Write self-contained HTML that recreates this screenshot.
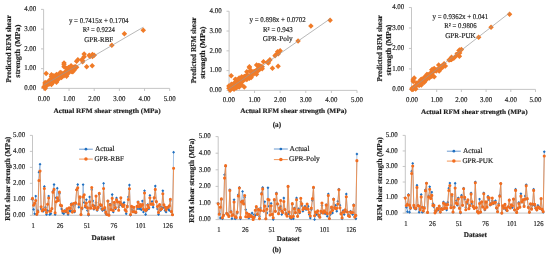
<!DOCTYPE html>
<html><head><meta charset="utf-8"><style>
html,body{margin:0;padding:0;background:#fff;width:550px;height:256px;overflow:hidden}
svg{display:block;filter:blur(0.4px)}
text{text-rendering:geometricPrecision;font-family:'Liberation Serif', 'DejaVu Serif', serif;fill:#1e1e1e;stroke:#1e1e1e;stroke-width:0.18px}
text.b{stroke-width:0.18px}
</style></head><body>
<svg width="550" height="256" viewBox="0 0 550 256">
<rect width="550" height="256" fill="#fff"/>
<path d="M43.60 9.40V88.40H169.70" fill="none" stroke="#BFBFBF" stroke-width="0.9"/>
<path d="M41.00 88.40H43.60M41.00 68.65H43.60M41.00 48.90H43.60M41.00 29.15H43.60M41.00 9.40H43.60M43.90 88.40V91.00M69.06 88.40V91.00M94.22 88.40V91.00M119.38 88.40V91.00M144.54 88.40V91.00M169.70 88.40V91.00" stroke="#BFBFBF" stroke-width="0.9"/>
<text x="36.30" y="90.20" font-size="7.4" text-anchor="end" textLength="12.10" lengthAdjust="spacingAndGlyphs">0.00</text>
<text x="36.30" y="70.45" font-size="7.4" text-anchor="end" textLength="12.10" lengthAdjust="spacingAndGlyphs">1.00</text>
<text x="36.30" y="50.70" font-size="7.4" text-anchor="end" textLength="12.10" lengthAdjust="spacingAndGlyphs">2.00</text>
<text x="36.30" y="30.95" font-size="7.4" text-anchor="end" textLength="12.10" lengthAdjust="spacingAndGlyphs">3.00</text>
<text x="36.30" y="11.20" font-size="7.4" text-anchor="end" textLength="12.10" lengthAdjust="spacingAndGlyphs">4.00</text>
<text x="43.90" y="100.80" font-size="7.4" text-anchor="middle" textLength="12.10" lengthAdjust="spacingAndGlyphs">0.00</text>
<text x="69.06" y="100.80" font-size="7.4" text-anchor="middle" textLength="12.10" lengthAdjust="spacingAndGlyphs">1.00</text>
<text x="94.22" y="100.80" font-size="7.4" text-anchor="middle" textLength="12.10" lengthAdjust="spacingAndGlyphs">2.00</text>
<text x="119.38" y="100.80" font-size="7.4" text-anchor="middle" textLength="12.10" lengthAdjust="spacingAndGlyphs">3.00</text>
<text x="144.54" y="100.80" font-size="7.4" text-anchor="middle" textLength="12.10" lengthAdjust="spacingAndGlyphs">4.00</text>
<text x="169.70" y="100.80" font-size="7.4" text-anchor="middle" textLength="12.10" lengthAdjust="spacingAndGlyphs">5.00</text>
<path d="M68.56 64.75l2.75 2.75l-2.75 2.75l-2.75 -2.75zM53.21 73.29l2.75 2.75l-2.75 2.75l-2.75 -2.75zM46.16 70.84l2.75 2.75l-2.75 2.75l-2.75 -2.75zM74.09 67.41l2.75 2.75l-2.75 2.75l-2.75 -2.75zM45.16 84.30l2.75 2.75l-2.75 2.75l-2.75 -2.75zM51.45 81.44l2.75 2.75l-2.75 2.75l-2.75 -2.75zM111.83 42.60l2.75 2.75l-2.75 2.75l-2.75 -2.75zM124.41 30.94l2.75 2.75l-2.75 2.75l-2.75 -2.75zM53.96 75.08l2.75 2.75l-2.75 2.75l-2.75 -2.75zM51.45 80.15l2.75 2.75l-2.75 2.75l-2.75 -2.75zM50.19 78.61l2.75 2.75l-2.75 2.75l-2.75 -2.75zM89.19 52.47l2.75 2.75l-2.75 2.75l-2.75 -2.75zM56.48 78.68l2.75 2.75l-2.75 2.75l-2.75 -2.75zM45.16 82.18l2.75 2.75l-2.75 2.75l-2.75 -2.75zM51.45 71.99l2.75 2.75l-2.75 2.75l-2.75 -2.75zM74.09 64.21l2.75 2.75l-2.75 2.75l-2.75 -2.75zM45.16 80.74l2.75 2.75l-2.75 2.75l-2.75 -2.75zM46.42 80.26l2.75 2.75l-2.75 2.75l-2.75 -2.75zM53.96 77.33l2.75 2.75l-2.75 2.75l-2.75 -2.75zM81.64 57.01l2.75 2.75l-2.75 2.75l-2.75 -2.75zM92.46 53.66l2.75 2.75l-2.75 2.75l-2.75 -2.75zM45.16 82.48l2.75 2.75l-2.75 2.75l-2.75 -2.75zM71.58 68.85l2.75 2.75l-2.75 2.75l-2.75 -2.75zM86.67 63.93l2.75 2.75l-2.75 2.75l-2.75 -2.75zM69.06 67.45l2.75 2.75l-2.75 2.75l-2.75 -2.75zM77.87 57.01l2.75 2.75l-2.75 2.75l-2.75 -2.75zM59.00 72.96l2.75 2.75l-2.75 2.75l-2.75 -2.75zM53.96 73.74l2.75 2.75l-2.75 2.75l-2.75 -2.75zM47.67 80.22l2.75 2.75l-2.75 2.75l-2.75 -2.75zM46.42 80.65l2.75 2.75l-2.75 2.75l-2.75 -2.75zM51.45 80.57l2.75 2.75l-2.75 2.75l-2.75 -2.75zM48.93 80.35l2.75 2.75l-2.75 2.75l-2.75 -2.75zM53.96 77.66l2.75 2.75l-2.75 2.75l-2.75 -2.75zM45.16 82.83l2.75 2.75l-2.75 2.75l-2.75 -2.75zM51.45 76.28l2.75 2.75l-2.75 2.75l-2.75 -2.75zM50.19 77.09l2.75 2.75l-2.75 2.75l-2.75 -2.75zM62.02 72.43l2.75 2.75l-2.75 2.75l-2.75 -2.75zM51.45 81.72l2.75 2.75l-2.75 2.75l-2.75 -2.75zM59.00 71.12l2.75 2.75l-2.75 2.75l-2.75 -2.75zM48.93 80.36l2.75 2.75l-2.75 2.75l-2.75 -2.75zM61.51 70.26l2.75 2.75l-2.75 2.75l-2.75 -2.75zM84.16 54.05l2.75 2.75l-2.75 2.75l-2.75 -2.75zM92.46 51.68l2.75 2.75l-2.75 2.75l-2.75 -2.75zM56.48 71.86l2.75 2.75l-2.75 2.75l-2.75 -2.75zM71.07 62.94l2.75 2.75l-2.75 2.75l-2.75 -2.75zM45.16 84.79l2.75 2.75l-2.75 2.75l-2.75 -2.75zM53.96 76.54l2.75 2.75l-2.75 2.75l-2.75 -2.75zM92.21 62.94l2.75 2.75l-2.75 2.75l-2.75 -2.75zM64.03 60.37l2.75 2.75l-2.75 2.75l-2.75 -2.75zM56.48 74.21l2.75 2.75l-2.75 2.75l-2.75 -2.75zM68.56 70.37l2.75 2.75l-2.75 2.75l-2.75 -2.75zM51.45 76.44l2.75 2.75l-2.75 2.75l-2.75 -2.75zM43.90 84.36l2.75 2.75l-2.75 2.75l-2.75 -2.75zM72.83 68.98l2.75 2.75l-2.75 2.75l-2.75 -2.75zM56.48 76.84l2.75 2.75l-2.75 2.75l-2.75 -2.75zM84.16 51.29l2.75 2.75l-2.75 2.75l-2.75 -2.75zM66.54 73.38l2.75 2.75l-2.75 2.75l-2.75 -2.75zM53.46 76.95l2.75 2.75l-2.75 2.75l-2.75 -2.75zM59.00 75.94l2.75 2.75l-2.75 2.75l-2.75 -2.75zM64.03 61.95l2.75 2.75l-2.75 2.75l-2.75 -2.75zM51.45 78.49l2.75 2.75l-2.75 2.75l-2.75 -2.75zM55.22 75.66l2.75 2.75l-2.75 2.75l-2.75 -2.75zM76.61 58.40l2.75 2.75l-2.75 2.75l-2.75 -2.75zM59.00 72.46l2.75 2.75l-2.75 2.75l-2.75 -2.75zM53.96 73.13l2.75 2.75l-2.75 2.75l-2.75 -2.75zM51.45 78.24l2.75 2.75l-2.75 2.75l-2.75 -2.75zM94.22 52.47l2.75 2.75l-2.75 2.75l-2.75 -2.75zM52.71 76.22l2.75 2.75l-2.75 2.75l-2.75 -2.75zM46.42 81.76l2.75 2.75l-2.75 2.75l-2.75 -2.75zM45.16 84.64l2.75 2.75l-2.75 2.75l-2.75 -2.75zM66.54 67.96l2.75 2.75l-2.75 2.75l-2.75 -2.75zM45.16 85.65l2.75 2.75l-2.75 2.75l-2.75 -2.75zM61.51 72.56l2.75 2.75l-2.75 2.75l-2.75 -2.75zM53.96 78.84l2.75 2.75l-2.75 2.75l-2.75 -2.75zM76.61 64.53l2.75 2.75l-2.75 2.75l-2.75 -2.75zM48.93 79.73l2.75 2.75l-2.75 2.75l-2.75 -2.75zM60.25 69.68l2.75 2.75l-2.75 2.75l-2.75 -2.75zM53.96 76.17l2.75 2.75l-2.75 2.75l-2.75 -2.75zM71.07 66.54l2.75 2.75l-2.75 2.75l-2.75 -2.75zM65.29 68.88l2.75 2.75l-2.75 2.75l-2.75 -2.75zM56.48 79.44l2.75 2.75l-2.75 2.75l-2.75 -2.75zM60.25 69.70l2.75 2.75l-2.75 2.75l-2.75 -2.75zM64.03 63.93l2.75 2.75l-2.75 2.75l-2.75 -2.75zM59.00 72.41l2.75 2.75l-2.75 2.75l-2.75 -2.75zM61.51 74.82l2.75 2.75l-2.75 2.75l-2.75 -2.75zM64.03 72.98l2.75 2.75l-2.75 2.75l-2.75 -2.75zM51.45 78.87l2.75 2.75l-2.75 2.75l-2.75 -2.75zM46.42 80.60l2.75 2.75l-2.75 2.75l-2.75 -2.75zM59.00 74.99l2.75 2.75l-2.75 2.75l-2.75 -2.75zM72.83 66.15l2.75 2.75l-2.75 2.75l-2.75 -2.75zM91.70 52.87l2.75 2.75l-2.75 2.75l-2.75 -2.75zM43.90 84.58l2.75 2.75l-2.75 2.75l-2.75 -2.75zM53.96 74.64l2.75 2.75l-2.75 2.75l-2.75 -2.75zM51.45 81.24l2.75 2.75l-2.75 2.75l-2.75 -2.75zM56.48 75.79l2.75 2.75l-2.75 2.75l-2.75 -2.75zM48.93 81.43l2.75 2.75l-2.75 2.75l-2.75 -2.75zM47.67 81.86l2.75 2.75l-2.75 2.75l-2.75 -2.75zM53.96 74.67l2.75 2.75l-2.75 2.75l-2.75 -2.75zM65.29 69.52l2.75 2.75l-2.75 2.75l-2.75 -2.75zM53.96 74.98l2.75 2.75l-2.75 2.75l-2.75 -2.75zM55.98 72.32l2.75 2.75l-2.75 2.75l-2.75 -2.75zM52.71 74.32l2.75 2.75l-2.75 2.75l-2.75 -2.75zM66.54 72.49l2.75 2.75l-2.75 2.75l-2.75 -2.75zM48.93 78.03l2.75 2.75l-2.75 2.75l-2.75 -2.75zM82.65 58.00l2.75 2.75l-2.75 2.75l-2.75 -2.75zM45.16 79.66l2.75 2.75l-2.75 2.75l-2.75 -2.75zM51.45 78.37l2.75 2.75l-2.75 2.75l-2.75 -2.75zM61.01 73.24l2.75 2.75l-2.75 2.75l-2.75 -2.75zM53.96 76.01l2.75 2.75l-2.75 2.75l-2.75 -2.75zM75.35 63.93l2.75 2.75l-2.75 2.75l-2.75 -2.75zM61.51 71.97l2.75 2.75l-2.75 2.75l-2.75 -2.75zM65.79 71.41l2.75 2.75l-2.75 2.75l-2.75 -2.75zM56.48 72.29l2.75 2.75l-2.75 2.75l-2.75 -2.75zM71.58 63.98l2.75 2.75l-2.75 2.75l-2.75 -2.75zM89.94 53.66l2.75 2.75l-2.75 2.75l-2.75 -2.75zM65.79 68.77l2.75 2.75l-2.75 2.75l-2.75 -2.75zM53.96 74.80l2.75 2.75l-2.75 2.75l-2.75 -2.75zM45.16 82.07l2.75 2.75l-2.75 2.75l-2.75 -2.75zM57.74 72.51l2.75 2.75l-2.75 2.75l-2.75 -2.75zM51.45 78.54l2.75 2.75l-2.75 2.75l-2.75 -2.75zM56.48 77.60l2.75 2.75l-2.75 2.75l-2.75 -2.75zM82.65 58.99l2.75 2.75l-2.75 2.75l-2.75 -2.75zM55.98 72.74l2.75 2.75l-2.75 2.75l-2.75 -2.75zM51.45 75.48l2.75 2.75l-2.75 2.75l-2.75 -2.75zM48.93 78.99l2.75 2.75l-2.75 2.75l-2.75 -2.75zM56.48 76.36l2.75 2.75l-2.75 2.75l-2.75 -2.75zM53.96 75.67l2.75 2.75l-2.75 2.75l-2.75 -2.75zM51.45 73.78l2.75 2.75l-2.75 2.75l-2.75 -2.75zM66.54 65.76l2.75 2.75l-2.75 2.75l-2.75 -2.75zM48.93 81.04l2.75 2.75l-2.75 2.75l-2.75 -2.75zM45.16 84.98l2.75 2.75l-2.75 2.75l-2.75 -2.75zM143.28 27.59l2.75 2.75l-2.75 2.75l-2.75 -2.75z" fill="#F07B28"/>
<line x1="43.90" y1="85.03" x2="143.28" y2="27.19" stroke="#9A9A9A" stroke-width="0.7"/>
<text x="68.90" y="23.00" font-size="7.4" text-anchor="start" textLength="59.70" lengthAdjust="spacingAndGlyphs">y = 0.7415x + 0.1704</text>
<text x="82.80" y="32.00" font-size="7.4" text-anchor="start" textLength="32.10" lengthAdjust="spacingAndGlyphs">R² = 0.9224</text>
<text x="84.30" y="42.10" font-size="7.4" text-anchor="start" textLength="28.90" lengthAdjust="spacingAndGlyphs">GPR-RBF</text>
<text x="53.60" y="112.90" font-size="6.9" text-anchor="start" font-weight="bold" class="b" textLength="107.00" lengthAdjust="spacingAndGlyphs">Actual RFM shear strength (MPa)</text>
<text transform="translate(10.88,48.85) rotate(-90)" font-size="7.5" font-weight="bold" class="b" text-anchor="middle" textLength="67.10" lengthAdjust="spacingAndGlyphs">Predicted RFM shear</text>
<text transform="translate(20.28,51.20) rotate(-90)" font-size="7.5" font-weight="bold" class="b" text-anchor="middle" textLength="53.20" lengthAdjust="spacingAndGlyphs">strength (MPa)</text>
<path d="M229.10 11.25V90.40H357.00" fill="none" stroke="#BFBFBF" stroke-width="0.9"/>
<path d="M226.50 90.40H229.10M226.50 70.61H229.10M226.50 50.83H229.10M226.50 31.04H229.10M226.50 11.25H229.10M228.90 90.40V93.00M254.52 90.40V93.00M280.14 90.40V93.00M305.76 90.40V93.00M331.38 90.40V93.00M357.00 90.40V93.00" stroke="#BFBFBF" stroke-width="0.9"/>
<text x="221.60" y="92.20" font-size="7.4" text-anchor="end" textLength="12.10" lengthAdjust="spacingAndGlyphs">0.00</text>
<text x="221.60" y="72.41" font-size="7.4" text-anchor="end" textLength="12.10" lengthAdjust="spacingAndGlyphs">1.00</text>
<text x="221.60" y="52.62" font-size="7.4" text-anchor="end" textLength="12.10" lengthAdjust="spacingAndGlyphs">2.00</text>
<text x="221.60" y="32.84" font-size="7.4" text-anchor="end" textLength="12.10" lengthAdjust="spacingAndGlyphs">3.00</text>
<text x="221.60" y="13.05" font-size="7.4" text-anchor="end" textLength="12.10" lengthAdjust="spacingAndGlyphs">4.00</text>
<text x="228.90" y="102.40" font-size="7.4" text-anchor="middle" textLength="12.10" lengthAdjust="spacingAndGlyphs">0.00</text>
<text x="254.52" y="102.40" font-size="7.4" text-anchor="middle" textLength="12.10" lengthAdjust="spacingAndGlyphs">1.00</text>
<text x="280.14" y="102.40" font-size="7.4" text-anchor="middle" textLength="12.10" lengthAdjust="spacingAndGlyphs">2.00</text>
<text x="305.76" y="102.40" font-size="7.4" text-anchor="middle" textLength="12.10" lengthAdjust="spacingAndGlyphs">3.00</text>
<text x="331.38" y="102.40" font-size="7.4" text-anchor="middle" textLength="12.10" lengthAdjust="spacingAndGlyphs">4.00</text>
<text x="357.00" y="102.40" font-size="7.4" text-anchor="middle" textLength="12.10" lengthAdjust="spacingAndGlyphs">5.00</text>
<path d="M254.01 68.85l2.75 2.75l-2.75 2.75l-2.75 -2.75zM238.38 81.26l2.75 2.75l-2.75 2.75l-2.75 -2.75zM231.21 73.01l2.75 2.75l-2.75 2.75l-2.75 -2.75zM259.64 62.95l2.75 2.75l-2.75 2.75l-2.75 -2.75zM230.18 85.34l2.75 2.75l-2.75 2.75l-2.75 -2.75zM236.59 82.71l2.75 2.75l-2.75 2.75l-2.75 -2.75zM298.07 38.18l2.75 2.75l-2.75 2.75l-2.75 -2.75zM310.88 23.34l2.75 2.75l-2.75 2.75l-2.75 -2.75zM239.15 80.37l2.75 2.75l-2.75 2.75l-2.75 -2.75zM236.59 81.61l2.75 2.75l-2.75 2.75l-2.75 -2.75zM235.31 83.97l2.75 2.75l-2.75 2.75l-2.75 -2.75zM275.02 53.02l2.75 2.75l-2.75 2.75l-2.75 -2.75zM241.71 78.68l2.75 2.75l-2.75 2.75l-2.75 -2.75zM230.18 82.80l2.75 2.75l-2.75 2.75l-2.75 -2.75zM236.59 81.86l2.75 2.75l-2.75 2.75l-2.75 -2.75zM259.64 66.70l2.75 2.75l-2.75 2.75l-2.75 -2.75zM230.18 84.32l2.75 2.75l-2.75 2.75l-2.75 -2.75zM231.46 85.05l2.75 2.75l-2.75 2.75l-2.75 -2.75zM239.15 78.70l2.75 2.75l-2.75 2.75l-2.75 -2.75zM267.33 59.55l2.75 2.75l-2.75 2.75l-2.75 -2.75zM278.35 50.05l2.75 2.75l-2.75 2.75l-2.75 -2.75zM230.18 85.01l2.75 2.75l-2.75 2.75l-2.75 -2.75zM257.08 66.67l2.75 2.75l-2.75 2.75l-2.75 -2.75zM272.45 65.49l2.75 2.75l-2.75 2.75l-2.75 -2.75zM254.52 69.08l2.75 2.75l-2.75 2.75l-2.75 -2.75zM263.49 58.96l2.75 2.75l-2.75 2.75l-2.75 -2.75zM244.27 84.23l2.75 2.75l-2.75 2.75l-2.75 -2.75zM239.15 79.71l2.75 2.75l-2.75 2.75l-2.75 -2.75zM232.74 84.28l2.75 2.75l-2.75 2.75l-2.75 -2.75zM231.46 81.48l2.75 2.75l-2.75 2.75l-2.75 -2.75zM236.59 83.56l2.75 2.75l-2.75 2.75l-2.75 -2.75zM234.02 83.21l2.75 2.75l-2.75 2.75l-2.75 -2.75zM239.15 84.30l2.75 2.75l-2.75 2.75l-2.75 -2.75zM230.18 87.47l2.75 2.75l-2.75 2.75l-2.75 -2.75zM236.59 84.99l2.75 2.75l-2.75 2.75l-2.75 -2.75zM235.31 76.51l2.75 2.75l-2.75 2.75l-2.75 -2.75zM247.35 72.10l2.75 2.75l-2.75 2.75l-2.75 -2.75zM236.59 81.26l2.75 2.75l-2.75 2.75l-2.75 -2.75zM244.27 75.50l2.75 2.75l-2.75 2.75l-2.75 -2.75zM234.02 86.47l2.75 2.75l-2.75 2.75l-2.75 -2.75zM246.83 76.66l2.75 2.75l-2.75 2.75l-2.75 -2.75zM269.89 57.13l2.75 2.75l-2.75 2.75l-2.75 -2.75zM278.35 51.04l2.75 2.75l-2.75 2.75l-2.75 -2.75zM241.71 77.04l2.75 2.75l-2.75 2.75l-2.75 -2.75zM256.57 71.55l2.75 2.75l-2.75 2.75l-2.75 -2.75zM230.18 86.67l2.75 2.75l-2.75 2.75l-2.75 -2.75zM239.15 75.25l2.75 2.75l-2.75 2.75l-2.75 -2.75zM278.09 63.51l2.75 2.75l-2.75 2.75l-2.75 -2.75zM249.40 63.91l2.75 2.75l-2.75 2.75l-2.75 -2.75zM241.71 82.24l2.75 2.75l-2.75 2.75l-2.75 -2.75zM254.01 71.05l2.75 2.75l-2.75 2.75l-2.75 -2.75zM236.59 81.38l2.75 2.75l-2.75 2.75l-2.75 -2.75zM228.90 85.42l2.75 2.75l-2.75 2.75l-2.75 -2.75zM258.36 63.76l2.75 2.75l-2.75 2.75l-2.75 -2.75zM241.71 77.82l2.75 2.75l-2.75 2.75l-2.75 -2.75zM269.89 56.98l2.75 2.75l-2.75 2.75l-2.75 -2.75zM251.96 68.70l2.75 2.75l-2.75 2.75l-2.75 -2.75zM238.64 80.53l2.75 2.75l-2.75 2.75l-2.75 -2.75zM244.27 73.86l2.75 2.75l-2.75 2.75l-2.75 -2.75zM249.40 64.89l2.75 2.75l-2.75 2.75l-2.75 -2.75zM236.59 77.35l2.75 2.75l-2.75 2.75l-2.75 -2.75zM240.43 79.25l2.75 2.75l-2.75 2.75l-2.75 -2.75zM262.21 66.03l2.75 2.75l-2.75 2.75l-2.75 -2.75zM244.27 75.68l2.75 2.75l-2.75 2.75l-2.75 -2.75zM239.15 80.99l2.75 2.75l-2.75 2.75l-2.75 -2.75zM236.59 83.50l2.75 2.75l-2.75 2.75l-2.75 -2.75zM280.14 48.08l2.75 2.75l-2.75 2.75l-2.75 -2.75zM237.87 78.54l2.75 2.75l-2.75 2.75l-2.75 -2.75zM231.46 83.97l2.75 2.75l-2.75 2.75l-2.75 -2.75zM230.18 85.12l2.75 2.75l-2.75 2.75l-2.75 -2.75zM251.96 68.63l2.75 2.75l-2.75 2.75l-2.75 -2.75zM230.18 83.82l2.75 2.75l-2.75 2.75l-2.75 -2.75zM246.83 74.67l2.75 2.75l-2.75 2.75l-2.75 -2.75zM239.15 79.18l2.75 2.75l-2.75 2.75l-2.75 -2.75zM262.21 63.99l2.75 2.75l-2.75 2.75l-2.75 -2.75zM234.02 83.79l2.75 2.75l-2.75 2.75l-2.75 -2.75zM245.55 76.27l2.75 2.75l-2.75 2.75l-2.75 -2.75zM239.15 78.44l2.75 2.75l-2.75 2.75l-2.75 -2.75zM256.57 62.28l2.75 2.75l-2.75 2.75l-2.75 -2.75zM250.68 68.89l2.75 2.75l-2.75 2.75l-2.75 -2.75zM241.71 75.59l2.75 2.75l-2.75 2.75l-2.75 -2.75zM245.55 73.63l2.75 2.75l-2.75 2.75l-2.75 -2.75zM249.40 73.46l2.75 2.75l-2.75 2.75l-2.75 -2.75zM244.27 74.40l2.75 2.75l-2.75 2.75l-2.75 -2.75zM246.83 69.08l2.75 2.75l-2.75 2.75l-2.75 -2.75zM249.40 75.38l2.75 2.75l-2.75 2.75l-2.75 -2.75zM236.59 79.17l2.75 2.75l-2.75 2.75l-2.75 -2.75zM231.46 83.39l2.75 2.75l-2.75 2.75l-2.75 -2.75zM244.27 73.93l2.75 2.75l-2.75 2.75l-2.75 -2.75zM258.36 62.70l2.75 2.75l-2.75 2.75l-2.75 -2.75zM277.58 49.06l2.75 2.75l-2.75 2.75l-2.75 -2.75zM228.90 83.14l2.75 2.75l-2.75 2.75l-2.75 -2.75zM239.15 78.54l2.75 2.75l-2.75 2.75l-2.75 -2.75zM236.59 79.12l2.75 2.75l-2.75 2.75l-2.75 -2.75zM241.71 77.13l2.75 2.75l-2.75 2.75l-2.75 -2.75zM234.02 82.17l2.75 2.75l-2.75 2.75l-2.75 -2.75zM232.74 84.88l2.75 2.75l-2.75 2.75l-2.75 -2.75zM239.15 77.68l2.75 2.75l-2.75 2.75l-2.75 -2.75zM250.68 67.83l2.75 2.75l-2.75 2.75l-2.75 -2.75zM239.15 79.68l2.75 2.75l-2.75 2.75l-2.75 -2.75zM241.20 77.27l2.75 2.75l-2.75 2.75l-2.75 -2.75zM237.87 78.68l2.75 2.75l-2.75 2.75l-2.75 -2.75zM251.96 70.35l2.75 2.75l-2.75 2.75l-2.75 -2.75zM234.02 80.58l2.75 2.75l-2.75 2.75l-2.75 -2.75zM268.35 58.96l2.75 2.75l-2.75 2.75l-2.75 -2.75zM230.18 86.41l2.75 2.75l-2.75 2.75l-2.75 -2.75zM236.59 79.30l2.75 2.75l-2.75 2.75l-2.75 -2.75zM246.32 72.77l2.75 2.75l-2.75 2.75l-2.75 -2.75zM239.15 76.61l2.75 2.75l-2.75 2.75l-2.75 -2.75zM260.93 63.55l2.75 2.75l-2.75 2.75l-2.75 -2.75zM246.83 73.43l2.75 2.75l-2.75 2.75l-2.75 -2.75zM251.19 74.68l2.75 2.75l-2.75 2.75l-2.75 -2.75zM241.71 74.12l2.75 2.75l-2.75 2.75l-2.75 -2.75zM257.08 69.02l2.75 2.75l-2.75 2.75l-2.75 -2.75zM275.78 52.03l2.75 2.75l-2.75 2.75l-2.75 -2.75zM251.19 73.63l2.75 2.75l-2.75 2.75l-2.75 -2.75zM239.15 80.83l2.75 2.75l-2.75 2.75l-2.75 -2.75zM230.18 85.42l2.75 2.75l-2.75 2.75l-2.75 -2.75zM242.99 78.24l2.75 2.75l-2.75 2.75l-2.75 -2.75zM236.59 78.86l2.75 2.75l-2.75 2.75l-2.75 -2.75zM241.71 75.83l2.75 2.75l-2.75 2.75l-2.75 -2.75zM268.35 60.34l2.75 2.75l-2.75 2.75l-2.75 -2.75zM241.20 78.61l2.75 2.75l-2.75 2.75l-2.75 -2.75zM236.59 82.97l2.75 2.75l-2.75 2.75l-2.75 -2.75zM234.02 83.91l2.75 2.75l-2.75 2.75l-2.75 -2.75zM241.71 78.69l2.75 2.75l-2.75 2.75l-2.75 -2.75zM239.15 79.28l2.75 2.75l-2.75 2.75l-2.75 -2.75zM236.59 79.15l2.75 2.75l-2.75 2.75l-2.75 -2.75zM251.96 70.73l2.75 2.75l-2.75 2.75l-2.75 -2.75zM234.02 84.65l2.75 2.75l-2.75 2.75l-2.75 -2.75zM230.18 82.67l2.75 2.75l-2.75 2.75l-2.75 -2.75zM330.10 17.40l2.75 2.75l-2.75 2.75l-2.75 -2.75z" fill="#F07B28"/>
<line x1="228.90" y1="89.01" x2="330.10" y2="18.82" stroke="#9A9A9A" stroke-width="0.7"/>
<text x="249.50" y="22.30" font-size="7.4" text-anchor="start" textLength="56.20" lengthAdjust="spacingAndGlyphs">y = 0.898x + 0.0702</text>
<text x="263.00" y="31.90" font-size="7.4" text-anchor="start" textLength="29.60" lengthAdjust="spacingAndGlyphs">R² = 0.943</text>
<text x="262.80" y="41.10" font-size="7.4" text-anchor="start" textLength="29.80" lengthAdjust="spacingAndGlyphs">GPR-Poly</text>
<text x="240.20" y="113.30" font-size="6.9" text-anchor="start" font-weight="bold" class="b" textLength="106.50" lengthAdjust="spacingAndGlyphs">Actual RFM shear strength (MPa)</text>
<text transform="translate(195.97,50.25) rotate(-90)" font-size="7.5" font-weight="bold" class="b" text-anchor="middle" textLength="66.10" lengthAdjust="spacingAndGlyphs">Predicted RFM shear</text>
<text transform="translate(205.47,52.65) rotate(-90)" font-size="7.5" font-weight="bold" class="b" text-anchor="middle" textLength="52.30" lengthAdjust="spacingAndGlyphs">strength (MPa)</text>
<path d="M411.50 7.50V89.40H535.50" fill="none" stroke="#BFBFBF" stroke-width="0.9"/>
<path d="M408.90 89.40H411.50M408.90 68.93H411.50M408.90 48.45H411.50M408.90 27.98H411.50M408.90 7.50H411.50M412.00 89.40V92.00M436.70 89.40V92.00M461.40 89.40V92.00M486.10 89.40V92.00M510.80 89.40V92.00M535.50 89.40V92.00" stroke="#BFBFBF" stroke-width="0.9"/>
<text x="404.30" y="91.20" font-size="7.4" text-anchor="end" textLength="12.10" lengthAdjust="spacingAndGlyphs">0.00</text>
<text x="404.30" y="70.73" font-size="7.4" text-anchor="end" textLength="12.10" lengthAdjust="spacingAndGlyphs">1.00</text>
<text x="404.30" y="50.25" font-size="7.4" text-anchor="end" textLength="12.10" lengthAdjust="spacingAndGlyphs">2.00</text>
<text x="404.30" y="29.78" font-size="7.4" text-anchor="end" textLength="12.10" lengthAdjust="spacingAndGlyphs">3.00</text>
<text x="404.30" y="9.30" font-size="7.4" text-anchor="end" textLength="12.10" lengthAdjust="spacingAndGlyphs">4.00</text>
<text x="412.00" y="101.60" font-size="7.4" text-anchor="middle" textLength="12.10" lengthAdjust="spacingAndGlyphs">0.00</text>
<text x="436.70" y="101.60" font-size="7.4" text-anchor="middle" textLength="12.10" lengthAdjust="spacingAndGlyphs">1.00</text>
<text x="461.40" y="101.60" font-size="7.4" text-anchor="middle" textLength="12.10" lengthAdjust="spacingAndGlyphs">2.00</text>
<text x="486.10" y="101.60" font-size="7.4" text-anchor="middle" textLength="12.10" lengthAdjust="spacingAndGlyphs">3.00</text>
<text x="510.80" y="101.60" font-size="7.4" text-anchor="middle" textLength="12.10" lengthAdjust="spacingAndGlyphs">4.00</text>
<text x="535.50" y="101.60" font-size="7.4" text-anchor="middle" textLength="12.10" lengthAdjust="spacingAndGlyphs">5.00</text>
<path d="M436.21 66.88l2.75 2.75l-2.75 2.75l-2.75 -2.75zM421.14 76.80l2.75 2.75l-2.75 2.75l-2.75 -2.75zM414.22 75.18l2.75 2.75l-2.75 2.75l-2.75 -2.75zM441.64 63.21l2.75 2.75l-2.75 2.75l-2.75 -2.75zM413.24 76.41l2.75 2.75l-2.75 2.75l-2.75 -2.75zM419.41 79.82l2.75 2.75l-2.75 2.75l-2.75 -2.75zM478.69 34.44l2.75 2.75l-2.75 2.75l-2.75 -2.75zM491.04 24.61l2.75 2.75l-2.75 2.75l-2.75 -2.75zM421.88 76.41l2.75 2.75l-2.75 2.75l-2.75 -2.75zM419.41 80.11l2.75 2.75l-2.75 2.75l-2.75 -2.75zM418.18 80.12l2.75 2.75l-2.75 2.75l-2.75 -2.75zM456.46 52.80l2.75 2.75l-2.75 2.75l-2.75 -2.75zM424.35 76.79l2.75 2.75l-2.75 2.75l-2.75 -2.75zM413.24 77.44l2.75 2.75l-2.75 2.75l-2.75 -2.75zM419.41 82.38l2.75 2.75l-2.75 2.75l-2.75 -2.75zM441.64 65.31l2.75 2.75l-2.75 2.75l-2.75 -2.75zM413.24 78.87l2.75 2.75l-2.75 2.75l-2.75 -2.75zM414.47 83.93l2.75 2.75l-2.75 2.75l-2.75 -2.75zM421.88 80.19l2.75 2.75l-2.75 2.75l-2.75 -2.75zM449.05 57.18l2.75 2.75l-2.75 2.75l-2.75 -2.75zM459.67 47.34l2.75 2.75l-2.75 2.75l-2.75 -2.75zM413.24 85.71l2.75 2.75l-2.75 2.75l-2.75 -2.75zM439.17 65.34l2.75 2.75l-2.75 2.75l-2.75 -2.75zM453.99 55.32l2.75 2.75l-2.75 2.75l-2.75 -2.75zM436.70 67.42l2.75 2.75l-2.75 2.75l-2.75 -2.75zM445.35 63.31l2.75 2.75l-2.75 2.75l-2.75 -2.75zM426.82 76.49l2.75 2.75l-2.75 2.75l-2.75 -2.75zM421.88 76.45l2.75 2.75l-2.75 2.75l-2.75 -2.75zM415.70 86.32l2.75 2.75l-2.75 2.75l-2.75 -2.75zM414.47 83.72l2.75 2.75l-2.75 2.75l-2.75 -2.75zM419.41 80.54l2.75 2.75l-2.75 2.75l-2.75 -2.75zM416.94 81.27l2.75 2.75l-2.75 2.75l-2.75 -2.75zM421.88 77.33l2.75 2.75l-2.75 2.75l-2.75 -2.75zM413.24 85.20l2.75 2.75l-2.75 2.75l-2.75 -2.75zM419.41 80.97l2.75 2.75l-2.75 2.75l-2.75 -2.75zM418.18 81.95l2.75 2.75l-2.75 2.75l-2.75 -2.75zM429.78 73.52l2.75 2.75l-2.75 2.75l-2.75 -2.75zM419.41 80.13l2.75 2.75l-2.75 2.75l-2.75 -2.75zM426.82 75.52l2.75 2.75l-2.75 2.75l-2.75 -2.75zM416.94 80.34l2.75 2.75l-2.75 2.75l-2.75 -2.75zM429.29 75.26l2.75 2.75l-2.75 2.75l-2.75 -2.75zM451.52 56.82l2.75 2.75l-2.75 2.75l-2.75 -2.75zM459.67 50.28l2.75 2.75l-2.75 2.75l-2.75 -2.75zM424.35 79.44l2.75 2.75l-2.75 2.75l-2.75 -2.75zM438.68 62.19l2.75 2.75l-2.75 2.75l-2.75 -2.75zM413.24 85.24l2.75 2.75l-2.75 2.75l-2.75 -2.75zM421.88 78.95l2.75 2.75l-2.75 2.75l-2.75 -2.75zM459.42 53.48l2.75 2.75l-2.75 2.75l-2.75 -2.75zM431.76 73.52l2.75 2.75l-2.75 2.75l-2.75 -2.75zM424.35 74.58l2.75 2.75l-2.75 2.75l-2.75 -2.75zM436.21 68.15l2.75 2.75l-2.75 2.75l-2.75 -2.75zM419.41 80.30l2.75 2.75l-2.75 2.75l-2.75 -2.75zM412.00 85.51l2.75 2.75l-2.75 2.75l-2.75 -2.75zM440.40 65.51l2.75 2.75l-2.75 2.75l-2.75 -2.75zM424.35 76.35l2.75 2.75l-2.75 2.75l-2.75 -2.75zM451.52 54.60l2.75 2.75l-2.75 2.75l-2.75 -2.75zM434.23 65.73l2.75 2.75l-2.75 2.75l-2.75 -2.75zM421.39 82.22l2.75 2.75l-2.75 2.75l-2.75 -2.75zM426.82 71.97l2.75 2.75l-2.75 2.75l-2.75 -2.75zM431.76 69.02l2.75 2.75l-2.75 2.75l-2.75 -2.75zM419.41 80.80l2.75 2.75l-2.75 2.75l-2.75 -2.75zM423.12 76.72l2.75 2.75l-2.75 2.75l-2.75 -2.75zM444.11 61.61l2.75 2.75l-2.75 2.75l-2.75 -2.75zM426.82 71.78l2.75 2.75l-2.75 2.75l-2.75 -2.75zM421.88 77.82l2.75 2.75l-2.75 2.75l-2.75 -2.75zM419.41 80.39l2.75 2.75l-2.75 2.75l-2.75 -2.75zM461.40 46.72l2.75 2.75l-2.75 2.75l-2.75 -2.75zM420.64 79.41l2.75 2.75l-2.75 2.75l-2.75 -2.75zM414.47 84.71l2.75 2.75l-2.75 2.75l-2.75 -2.75zM413.24 86.58l2.75 2.75l-2.75 2.75l-2.75 -2.75zM434.23 74.10l2.75 2.75l-2.75 2.75l-2.75 -2.75zM413.24 85.13l2.75 2.75l-2.75 2.75l-2.75 -2.75zM429.29 71.82l2.75 2.75l-2.75 2.75l-2.75 -2.75zM421.88 78.46l2.75 2.75l-2.75 2.75l-2.75 -2.75zM444.11 61.12l2.75 2.75l-2.75 2.75l-2.75 -2.75zM416.94 81.47l2.75 2.75l-2.75 2.75l-2.75 -2.75zM428.06 71.86l2.75 2.75l-2.75 2.75l-2.75 -2.75zM421.88 78.83l2.75 2.75l-2.75 2.75l-2.75 -2.75zM438.68 65.68l2.75 2.75l-2.75 2.75l-2.75 -2.75zM433.00 66.54l2.75 2.75l-2.75 2.75l-2.75 -2.75zM424.35 75.41l2.75 2.75l-2.75 2.75l-2.75 -2.75zM428.06 74.86l2.75 2.75l-2.75 2.75l-2.75 -2.75zM431.76 66.91l2.75 2.75l-2.75 2.75l-2.75 -2.75zM426.82 73.12l2.75 2.75l-2.75 2.75l-2.75 -2.75zM429.29 73.30l2.75 2.75l-2.75 2.75l-2.75 -2.75zM431.76 72.28l2.75 2.75l-2.75 2.75l-2.75 -2.75zM419.41 79.60l2.75 2.75l-2.75 2.75l-2.75 -2.75zM414.47 84.85l2.75 2.75l-2.75 2.75l-2.75 -2.75zM426.82 76.30l2.75 2.75l-2.75 2.75l-2.75 -2.75zM440.40 64.54l2.75 2.75l-2.75 2.75l-2.75 -2.75zM458.93 47.75l2.75 2.75l-2.75 2.75l-2.75 -2.75zM412.00 86.65l2.75 2.75l-2.75 2.75l-2.75 -2.75zM421.88 77.12l2.75 2.75l-2.75 2.75l-2.75 -2.75zM419.41 79.96l2.75 2.75l-2.75 2.75l-2.75 -2.75zM424.35 74.93l2.75 2.75l-2.75 2.75l-2.75 -2.75zM416.94 80.13l2.75 2.75l-2.75 2.75l-2.75 -2.75zM415.70 83.19l2.75 2.75l-2.75 2.75l-2.75 -2.75zM421.88 78.37l2.75 2.75l-2.75 2.75l-2.75 -2.75zM433.00 69.59l2.75 2.75l-2.75 2.75l-2.75 -2.75zM421.88 79.89l2.75 2.75l-2.75 2.75l-2.75 -2.75zM423.86 75.58l2.75 2.75l-2.75 2.75l-2.75 -2.75zM420.64 76.99l2.75 2.75l-2.75 2.75l-2.75 -2.75zM434.23 68.29l2.75 2.75l-2.75 2.75l-2.75 -2.75zM416.94 82.34l2.75 2.75l-2.75 2.75l-2.75 -2.75zM450.04 56.69l2.75 2.75l-2.75 2.75l-2.75 -2.75zM413.24 85.67l2.75 2.75l-2.75 2.75l-2.75 -2.75zM419.41 80.68l2.75 2.75l-2.75 2.75l-2.75 -2.75zM428.80 74.07l2.75 2.75l-2.75 2.75l-2.75 -2.75zM421.88 78.81l2.75 2.75l-2.75 2.75l-2.75 -2.75zM442.88 64.27l2.75 2.75l-2.75 2.75l-2.75 -2.75zM429.29 71.85l2.75 2.75l-2.75 2.75l-2.75 -2.75zM433.49 69.06l2.75 2.75l-2.75 2.75l-2.75 -2.75zM424.35 78.00l2.75 2.75l-2.75 2.75l-2.75 -2.75zM439.17 68.25l2.75 2.75l-2.75 2.75l-2.75 -2.75zM457.20 50.74l2.75 2.75l-2.75 2.75l-2.75 -2.75zM433.49 67.44l2.75 2.75l-2.75 2.75l-2.75 -2.75zM421.88 79.27l2.75 2.75l-2.75 2.75l-2.75 -2.75zM413.24 85.48l2.75 2.75l-2.75 2.75l-2.75 -2.75zM425.58 74.26l2.75 2.75l-2.75 2.75l-2.75 -2.75zM419.41 81.47l2.75 2.75l-2.75 2.75l-2.75 -2.75zM424.35 74.71l2.75 2.75l-2.75 2.75l-2.75 -2.75zM450.04 56.76l2.75 2.75l-2.75 2.75l-2.75 -2.75zM423.86 75.19l2.75 2.75l-2.75 2.75l-2.75 -2.75zM419.41 80.01l2.75 2.75l-2.75 2.75l-2.75 -2.75zM416.94 82.33l2.75 2.75l-2.75 2.75l-2.75 -2.75zM424.35 78.50l2.75 2.75l-2.75 2.75l-2.75 -2.75zM421.88 79.20l2.75 2.75l-2.75 2.75l-2.75 -2.75zM419.41 80.46l2.75 2.75l-2.75 2.75l-2.75 -2.75zM434.23 67.55l2.75 2.75l-2.75 2.75l-2.75 -2.75zM416.94 81.60l2.75 2.75l-2.75 2.75l-2.75 -2.75zM413.24 84.68l2.75 2.75l-2.75 2.75l-2.75 -2.75zM509.56 11.51l2.75 2.75l-2.75 2.75l-2.75 -2.75z" fill="#F07B28"/>
<line x1="412.00" y1="88.56" x2="509.56" y2="12.84" stroke="#9A9A9A" stroke-width="0.7"/>
<text x="432.60" y="19.00" font-size="7.4" text-anchor="start" textLength="55.60" lengthAdjust="spacingAndGlyphs">y = 0.9362x + 0.041</text>
<text x="444.30" y="28.20" font-size="7.4" text-anchor="start" textLength="32.30" lengthAdjust="spacingAndGlyphs">R² = 0.9806</text>
<text x="445.20" y="37.50" font-size="7.4" text-anchor="start" textLength="30.50" lengthAdjust="spacingAndGlyphs">GPR-PUK</text>
<text x="420.90" y="113.90" font-size="6.9" text-anchor="start" font-weight="bold" class="b" textLength="106.70" lengthAdjust="spacingAndGlyphs">Actual RFM shear strength (MPa)</text>
<text transform="translate(382.28,48.40) rotate(-90)" font-size="7.5" font-weight="bold" class="b" text-anchor="middle" textLength="66.20" lengthAdjust="spacingAndGlyphs">Predicted RFM shear</text>
<text transform="translate(391.28,50.05) rotate(-90)" font-size="7.5" font-weight="bold" class="b" text-anchor="middle" textLength="50.90" lengthAdjust="spacingAndGlyphs">strength (MPa)</text>
<text x="272.70" y="127.30" font-size="7.6" text-anchor="start" font-weight="bold" class="b" textLength="8.40" lengthAdjust="spacingAndGlyphs">(a)</text>
<text x="272.40" y="252.30" font-size="7.6" text-anchor="start" font-weight="bold" class="b" textLength="8.70" lengthAdjust="spacingAndGlyphs">(b)</text>
<path d="M32.50 135.40V215.30H173.60" fill="none" stroke="#BFBFBF" stroke-width="0.9"/>
<path d="M29.90 215.30H32.50M29.90 199.32H32.50M29.90 183.34H32.50M29.90 167.36H32.50M29.90 151.38H32.50M29.90 135.40H32.50" stroke="#BFBFBF" stroke-width="0.9"/>
<text x="25.10" y="217.10" font-size="7.4" text-anchor="end" textLength="12.10" lengthAdjust="spacingAndGlyphs">0.00</text>
<text x="25.10" y="201.12" font-size="7.4" text-anchor="end" textLength="12.10" lengthAdjust="spacingAndGlyphs">1.00</text>
<text x="25.10" y="185.14" font-size="7.4" text-anchor="end" textLength="12.10" lengthAdjust="spacingAndGlyphs">2.00</text>
<text x="25.10" y="169.16" font-size="7.4" text-anchor="end" textLength="12.10" lengthAdjust="spacingAndGlyphs">3.00</text>
<text x="25.10" y="153.18" font-size="7.4" text-anchor="end" textLength="12.10" lengthAdjust="spacingAndGlyphs">4.00</text>
<text x="25.10" y="137.20" font-size="7.4" text-anchor="end" textLength="12.10" lengthAdjust="spacingAndGlyphs">5.00</text>
<text x="33.10" y="227.60" font-size="7.4" text-anchor="middle" textLength="3.30" lengthAdjust="spacingAndGlyphs">1</text>
<text x="60.03" y="227.60" font-size="7.4" text-anchor="middle" textLength="6.60" lengthAdjust="spacingAndGlyphs">26</text>
<text x="86.95" y="227.60" font-size="7.4" text-anchor="middle" textLength="6.60" lengthAdjust="spacingAndGlyphs">51</text>
<text x="113.88" y="227.60" font-size="7.4" text-anchor="middle" textLength="6.60" lengthAdjust="spacingAndGlyphs">76</text>
<text x="140.81" y="227.60" font-size="7.4" text-anchor="middle" textLength="9.90" lengthAdjust="spacingAndGlyphs">101</text>
<text x="167.74" y="227.60" font-size="7.4" text-anchor="middle" textLength="9.90" lengthAdjust="spacingAndGlyphs">126</text>
<polyline points="32.50,199.64 33.58,209.39 34.65,213.86 35.73,196.12 36.81,214.50 37.89,210.51 38.96,172.15 40.04,164.16 41.12,208.91 42.19,210.51 43.27,211.31 44.35,186.54 45.43,207.31 46.50,214.50 47.58,210.51 48.66,196.12 49.73,214.50 50.81,213.70 51.89,208.91 52.96,191.33 54.04,184.46 55.12,214.50 56.20,197.72 57.27,188.13 58.35,199.32 59.43,193.73 60.50,205.71 61.58,208.91 62.66,212.90 63.74,213.70 64.81,210.51 65.89,212.10 66.97,208.91 68.04,214.50 69.12,210.51 70.20,211.31 71.28,203.79 72.35,210.51 73.43,205.71 74.51,212.10 75.58,204.11 76.66,189.73 77.74,184.46 78.82,207.31 79.89,198.04 80.97,214.50 82.05,208.91 83.12,184.62 84.20,202.52 85.28,207.31 86.35,199.64 87.43,210.51 88.51,215.30 89.59,196.92 90.66,207.31 91.74,189.73 92.82,200.92 93.89,209.23 94.97,205.71 96.05,202.52 97.13,210.51 98.20,208.11 99.28,194.53 100.36,205.71 101.43,208.91 102.51,210.51 103.59,183.34 104.67,209.71 105.74,213.70 106.82,214.50 107.90,200.92 108.97,214.50 110.05,204.11 111.13,208.91 112.21,194.53 113.28,212.10 114.36,204.91 115.44,208.91 116.51,198.04 117.59,201.72 118.67,207.31 119.75,204.91 120.82,202.52 121.90,205.71 122.98,204.11 124.05,202.52 125.13,210.51 126.21,213.70 127.28,205.71 128.36,196.92 129.44,184.94 130.52,215.30 131.59,208.91 132.67,210.51 133.75,207.31 134.82,212.10 135.90,212.90 136.98,208.91 138.06,201.72 139.13,208.91 140.21,207.63 141.29,209.71 142.36,200.92 143.44,212.10 144.52,190.69 145.60,214.50 146.67,210.51 147.75,204.43 148.83,208.91 149.90,195.33 150.98,204.11 152.06,201.40 153.14,207.31 154.21,197.72 155.29,186.06 156.37,201.40 157.44,208.91 158.52,214.50 159.60,206.51 160.67,210.51 161.75,207.31 162.83,190.69 163.91,207.63 164.98,210.51 166.06,212.10 167.14,207.31 168.21,208.91 169.29,210.51 170.37,200.92 171.45,212.10 172.52,214.50 173.60,152.18" fill="none" stroke="#5A8FCC" stroke-width="0.55"/>
<path d="M32.50 198.19l1.45 1.45l-1.45 1.45l-1.45 -1.45zM33.58 207.94l1.45 1.45l-1.45 1.45l-1.45 -1.45zM34.65 212.41l1.45 1.45l-1.45 1.45l-1.45 -1.45zM35.73 194.67l1.45 1.45l-1.45 1.45l-1.45 -1.45zM36.81 213.05l1.45 1.45l-1.45 1.45l-1.45 -1.45zM37.89 209.06l1.45 1.45l-1.45 1.45l-1.45 -1.45zM38.96 170.70l1.45 1.45l-1.45 1.45l-1.45 -1.45zM40.04 162.71l1.45 1.45l-1.45 1.45l-1.45 -1.45zM41.12 207.46l1.45 1.45l-1.45 1.45l-1.45 -1.45zM42.19 209.06l1.45 1.45l-1.45 1.45l-1.45 -1.45zM43.27 209.86l1.45 1.45l-1.45 1.45l-1.45 -1.45zM44.35 185.09l1.45 1.45l-1.45 1.45l-1.45 -1.45zM45.43 205.86l1.45 1.45l-1.45 1.45l-1.45 -1.45zM46.50 213.05l1.45 1.45l-1.45 1.45l-1.45 -1.45zM47.58 209.06l1.45 1.45l-1.45 1.45l-1.45 -1.45zM48.66 194.67l1.45 1.45l-1.45 1.45l-1.45 -1.45zM49.73 213.05l1.45 1.45l-1.45 1.45l-1.45 -1.45zM50.81 212.25l1.45 1.45l-1.45 1.45l-1.45 -1.45zM51.89 207.46l1.45 1.45l-1.45 1.45l-1.45 -1.45zM52.96 189.88l1.45 1.45l-1.45 1.45l-1.45 -1.45zM54.04 183.01l1.45 1.45l-1.45 1.45l-1.45 -1.45zM55.12 213.05l1.45 1.45l-1.45 1.45l-1.45 -1.45zM56.20 196.27l1.45 1.45l-1.45 1.45l-1.45 -1.45zM57.27 186.68l1.45 1.45l-1.45 1.45l-1.45 -1.45zM58.35 197.87l1.45 1.45l-1.45 1.45l-1.45 -1.45zM59.43 192.28l1.45 1.45l-1.45 1.45l-1.45 -1.45zM60.50 204.26l1.45 1.45l-1.45 1.45l-1.45 -1.45zM61.58 207.46l1.45 1.45l-1.45 1.45l-1.45 -1.45zM62.66 211.45l1.45 1.45l-1.45 1.45l-1.45 -1.45zM63.74 212.25l1.45 1.45l-1.45 1.45l-1.45 -1.45zM64.81 209.06l1.45 1.45l-1.45 1.45l-1.45 -1.45zM65.89 210.65l1.45 1.45l-1.45 1.45l-1.45 -1.45zM66.97 207.46l1.45 1.45l-1.45 1.45l-1.45 -1.45zM68.04 213.05l1.45 1.45l-1.45 1.45l-1.45 -1.45zM69.12 209.06l1.45 1.45l-1.45 1.45l-1.45 -1.45zM70.20 209.86l1.45 1.45l-1.45 1.45l-1.45 -1.45zM71.28 202.34l1.45 1.45l-1.45 1.45l-1.45 -1.45zM72.35 209.06l1.45 1.45l-1.45 1.45l-1.45 -1.45zM73.43 204.26l1.45 1.45l-1.45 1.45l-1.45 -1.45zM74.51 210.65l1.45 1.45l-1.45 1.45l-1.45 -1.45zM75.58 202.66l1.45 1.45l-1.45 1.45l-1.45 -1.45zM76.66 188.28l1.45 1.45l-1.45 1.45l-1.45 -1.45zM77.74 183.01l1.45 1.45l-1.45 1.45l-1.45 -1.45zM78.82 205.86l1.45 1.45l-1.45 1.45l-1.45 -1.45zM79.89 196.59l1.45 1.45l-1.45 1.45l-1.45 -1.45zM80.97 213.05l1.45 1.45l-1.45 1.45l-1.45 -1.45zM82.05 207.46l1.45 1.45l-1.45 1.45l-1.45 -1.45zM83.12 183.17l1.45 1.45l-1.45 1.45l-1.45 -1.45zM84.20 201.07l1.45 1.45l-1.45 1.45l-1.45 -1.45zM85.28 205.86l1.45 1.45l-1.45 1.45l-1.45 -1.45zM86.35 198.19l1.45 1.45l-1.45 1.45l-1.45 -1.45zM87.43 209.06l1.45 1.45l-1.45 1.45l-1.45 -1.45zM88.51 213.85l1.45 1.45l-1.45 1.45l-1.45 -1.45zM89.59 195.47l1.45 1.45l-1.45 1.45l-1.45 -1.45zM90.66 205.86l1.45 1.45l-1.45 1.45l-1.45 -1.45zM91.74 188.28l1.45 1.45l-1.45 1.45l-1.45 -1.45zM92.82 199.47l1.45 1.45l-1.45 1.45l-1.45 -1.45zM93.89 207.78l1.45 1.45l-1.45 1.45l-1.45 -1.45zM94.97 204.26l1.45 1.45l-1.45 1.45l-1.45 -1.45zM96.05 201.07l1.45 1.45l-1.45 1.45l-1.45 -1.45zM97.13 209.06l1.45 1.45l-1.45 1.45l-1.45 -1.45zM98.20 206.66l1.45 1.45l-1.45 1.45l-1.45 -1.45zM99.28 193.08l1.45 1.45l-1.45 1.45l-1.45 -1.45zM100.36 204.26l1.45 1.45l-1.45 1.45l-1.45 -1.45zM101.43 207.46l1.45 1.45l-1.45 1.45l-1.45 -1.45zM102.51 209.06l1.45 1.45l-1.45 1.45l-1.45 -1.45zM103.59 181.89l1.45 1.45l-1.45 1.45l-1.45 -1.45zM104.67 208.26l1.45 1.45l-1.45 1.45l-1.45 -1.45zM105.74 212.25l1.45 1.45l-1.45 1.45l-1.45 -1.45zM106.82 213.05l1.45 1.45l-1.45 1.45l-1.45 -1.45zM107.90 199.47l1.45 1.45l-1.45 1.45l-1.45 -1.45zM108.97 213.05l1.45 1.45l-1.45 1.45l-1.45 -1.45zM110.05 202.66l1.45 1.45l-1.45 1.45l-1.45 -1.45zM111.13 207.46l1.45 1.45l-1.45 1.45l-1.45 -1.45zM112.21 193.08l1.45 1.45l-1.45 1.45l-1.45 -1.45zM113.28 210.65l1.45 1.45l-1.45 1.45l-1.45 -1.45zM114.36 203.46l1.45 1.45l-1.45 1.45l-1.45 -1.45zM115.44 207.46l1.45 1.45l-1.45 1.45l-1.45 -1.45zM116.51 196.59l1.45 1.45l-1.45 1.45l-1.45 -1.45zM117.59 200.27l1.45 1.45l-1.45 1.45l-1.45 -1.45zM118.67 205.86l1.45 1.45l-1.45 1.45l-1.45 -1.45zM119.75 203.46l1.45 1.45l-1.45 1.45l-1.45 -1.45zM120.82 201.07l1.45 1.45l-1.45 1.45l-1.45 -1.45zM121.90 204.26l1.45 1.45l-1.45 1.45l-1.45 -1.45zM122.98 202.66l1.45 1.45l-1.45 1.45l-1.45 -1.45zM124.05 201.07l1.45 1.45l-1.45 1.45l-1.45 -1.45zM125.13 209.06l1.45 1.45l-1.45 1.45l-1.45 -1.45zM126.21 212.25l1.45 1.45l-1.45 1.45l-1.45 -1.45zM127.28 204.26l1.45 1.45l-1.45 1.45l-1.45 -1.45zM128.36 195.47l1.45 1.45l-1.45 1.45l-1.45 -1.45zM129.44 183.49l1.45 1.45l-1.45 1.45l-1.45 -1.45zM130.52 213.85l1.45 1.45l-1.45 1.45l-1.45 -1.45zM131.59 207.46l1.45 1.45l-1.45 1.45l-1.45 -1.45zM132.67 209.06l1.45 1.45l-1.45 1.45l-1.45 -1.45zM133.75 205.86l1.45 1.45l-1.45 1.45l-1.45 -1.45zM134.82 210.65l1.45 1.45l-1.45 1.45l-1.45 -1.45zM135.90 211.45l1.45 1.45l-1.45 1.45l-1.45 -1.45zM136.98 207.46l1.45 1.45l-1.45 1.45l-1.45 -1.45zM138.06 200.27l1.45 1.45l-1.45 1.45l-1.45 -1.45zM139.13 207.46l1.45 1.45l-1.45 1.45l-1.45 -1.45zM140.21 206.18l1.45 1.45l-1.45 1.45l-1.45 -1.45zM141.29 208.26l1.45 1.45l-1.45 1.45l-1.45 -1.45zM142.36 199.47l1.45 1.45l-1.45 1.45l-1.45 -1.45zM143.44 210.65l1.45 1.45l-1.45 1.45l-1.45 -1.45zM144.52 189.24l1.45 1.45l-1.45 1.45l-1.45 -1.45zM145.60 213.05l1.45 1.45l-1.45 1.45l-1.45 -1.45zM146.67 209.06l1.45 1.45l-1.45 1.45l-1.45 -1.45zM147.75 202.98l1.45 1.45l-1.45 1.45l-1.45 -1.45zM148.83 207.46l1.45 1.45l-1.45 1.45l-1.45 -1.45zM149.90 193.88l1.45 1.45l-1.45 1.45l-1.45 -1.45zM150.98 202.66l1.45 1.45l-1.45 1.45l-1.45 -1.45zM152.06 199.95l1.45 1.45l-1.45 1.45l-1.45 -1.45zM153.14 205.86l1.45 1.45l-1.45 1.45l-1.45 -1.45zM154.21 196.27l1.45 1.45l-1.45 1.45l-1.45 -1.45zM155.29 184.61l1.45 1.45l-1.45 1.45l-1.45 -1.45zM156.37 199.95l1.45 1.45l-1.45 1.45l-1.45 -1.45zM157.44 207.46l1.45 1.45l-1.45 1.45l-1.45 -1.45zM158.52 213.05l1.45 1.45l-1.45 1.45l-1.45 -1.45zM159.60 205.06l1.45 1.45l-1.45 1.45l-1.45 -1.45zM160.67 209.06l1.45 1.45l-1.45 1.45l-1.45 -1.45zM161.75 205.86l1.45 1.45l-1.45 1.45l-1.45 -1.45zM162.83 189.24l1.45 1.45l-1.45 1.45l-1.45 -1.45zM163.91 206.18l1.45 1.45l-1.45 1.45l-1.45 -1.45zM164.98 209.06l1.45 1.45l-1.45 1.45l-1.45 -1.45zM166.06 210.65l1.45 1.45l-1.45 1.45l-1.45 -1.45zM167.14 205.86l1.45 1.45l-1.45 1.45l-1.45 -1.45zM168.21 207.46l1.45 1.45l-1.45 1.45l-1.45 -1.45zM169.29 209.06l1.45 1.45l-1.45 1.45l-1.45 -1.45zM170.37 199.47l1.45 1.45l-1.45 1.45l-1.45 -1.45zM171.45 210.65l1.45 1.45l-1.45 1.45l-1.45 -1.45zM172.52 213.05l1.45 1.45l-1.45 1.45l-1.45 -1.45zM173.60 150.73l1.45 1.45l-1.45 1.45l-1.45 -1.45z" fill="#1F6FC0"/>
<polyline points="32.50,198.39 33.58,205.30 34.65,203.31 35.73,200.54 36.81,214.21 37.89,211.89 38.96,180.46 40.04,171.04 41.12,206.75 42.19,210.85 43.27,209.60 44.35,188.45 45.43,209.66 46.50,212.49 47.58,204.25 48.66,197.95 49.73,211.33 50.81,210.94 51.89,208.57 52.96,192.13 54.04,189.41 55.12,212.74 56.20,201.70 57.27,197.72 58.35,200.57 59.43,192.13 60.50,205.04 61.58,205.66 62.66,210.90 63.74,211.25 64.81,211.19 65.89,211.01 66.97,208.84 68.04,213.02 69.12,207.72 70.20,208.38 71.28,204.61 72.35,212.12 73.43,203.54 74.51,211.02 75.58,202.85 76.66,189.73 77.74,187.81 78.82,204.14 79.89,196.92 80.97,214.61 82.05,207.93 83.12,196.92 84.20,194.85 85.28,206.05 86.35,202.94 87.43,207.85 88.51,214.26 89.59,201.81 90.66,208.17 91.74,187.49 92.82,205.38 93.89,208.26 94.97,207.45 96.05,196.12 97.13,209.51 98.20,207.21 99.28,193.25 100.36,204.63 101.43,205.17 102.51,209.30 103.59,188.45 104.67,207.67 105.74,212.15 106.82,214.48 107.90,200.99 108.97,215.30 110.05,204.71 111.13,209.79 112.21,198.21 113.28,210.51 114.36,202.38 115.44,207.63 116.51,199.84 117.59,201.73 118.67,210.27 119.75,202.40 120.82,197.72 121.90,204.59 122.98,206.53 124.05,205.05 125.13,209.81 126.21,211.21 127.28,206.67 128.36,199.52 129.44,188.77 130.52,214.43 131.59,206.40 132.67,211.73 133.75,207.32 134.82,211.89 135.90,212.24 136.98,206.42 138.06,202.25 139.13,206.67 140.21,204.51 141.29,206.13 142.36,204.65 143.44,209.13 144.52,192.93 145.60,210.45 146.67,209.41 147.75,205.26 148.83,207.50 149.90,197.73 150.98,204.23 152.06,203.78 153.14,204.49 154.21,197.77 155.29,189.41 156.37,201.64 157.44,206.52 158.52,212.40 159.60,204.67 160.67,209.55 161.75,208.79 162.83,193.73 163.91,204.85 164.98,207.07 166.06,209.92 167.14,207.79 168.21,207.22 169.29,205.70 170.37,199.21 171.45,211.57 172.52,214.76 173.60,168.32" fill="none" stroke="#F28B45" stroke-width="0.9"/>
<path d="M30.95 198.39a1.55 1.55 0 1 0 3.1 0a1.55 1.55 0 1 0 -3.1 0M32.03 205.30a1.55 1.55 0 1 0 3.1 0a1.55 1.55 0 1 0 -3.1 0M33.10 203.31a1.55 1.55 0 1 0 3.1 0a1.55 1.55 0 1 0 -3.1 0M34.18 200.54a1.55 1.55 0 1 0 3.1 0a1.55 1.55 0 1 0 -3.1 0M35.26 214.21a1.55 1.55 0 1 0 3.1 0a1.55 1.55 0 1 0 -3.1 0M36.34 211.89a1.55 1.55 0 1 0 3.1 0a1.55 1.55 0 1 0 -3.1 0M37.41 180.46a1.55 1.55 0 1 0 3.1 0a1.55 1.55 0 1 0 -3.1 0M38.49 171.04a1.55 1.55 0 1 0 3.1 0a1.55 1.55 0 1 0 -3.1 0M39.57 206.75a1.55 1.55 0 1 0 3.1 0a1.55 1.55 0 1 0 -3.1 0M40.64 210.85a1.55 1.55 0 1 0 3.1 0a1.55 1.55 0 1 0 -3.1 0M41.72 209.60a1.55 1.55 0 1 0 3.1 0a1.55 1.55 0 1 0 -3.1 0M42.80 188.45a1.55 1.55 0 1 0 3.1 0a1.55 1.55 0 1 0 -3.1 0M43.88 209.66a1.55 1.55 0 1 0 3.1 0a1.55 1.55 0 1 0 -3.1 0M44.95 212.49a1.55 1.55 0 1 0 3.1 0a1.55 1.55 0 1 0 -3.1 0M46.03 204.25a1.55 1.55 0 1 0 3.1 0a1.55 1.55 0 1 0 -3.1 0M47.11 197.95a1.55 1.55 0 1 0 3.1 0a1.55 1.55 0 1 0 -3.1 0M48.18 211.33a1.55 1.55 0 1 0 3.1 0a1.55 1.55 0 1 0 -3.1 0M49.26 210.94a1.55 1.55 0 1 0 3.1 0a1.55 1.55 0 1 0 -3.1 0M50.34 208.57a1.55 1.55 0 1 0 3.1 0a1.55 1.55 0 1 0 -3.1 0M51.41 192.13a1.55 1.55 0 1 0 3.1 0a1.55 1.55 0 1 0 -3.1 0M52.49 189.41a1.55 1.55 0 1 0 3.1 0a1.55 1.55 0 1 0 -3.1 0M53.57 212.74a1.55 1.55 0 1 0 3.1 0a1.55 1.55 0 1 0 -3.1 0M54.65 201.70a1.55 1.55 0 1 0 3.1 0a1.55 1.55 0 1 0 -3.1 0M55.72 197.72a1.55 1.55 0 1 0 3.1 0a1.55 1.55 0 1 0 -3.1 0M56.80 200.57a1.55 1.55 0 1 0 3.1 0a1.55 1.55 0 1 0 -3.1 0M57.88 192.13a1.55 1.55 0 1 0 3.1 0a1.55 1.55 0 1 0 -3.1 0M58.95 205.04a1.55 1.55 0 1 0 3.1 0a1.55 1.55 0 1 0 -3.1 0M60.03 205.66a1.55 1.55 0 1 0 3.1 0a1.55 1.55 0 1 0 -3.1 0M61.11 210.90a1.55 1.55 0 1 0 3.1 0a1.55 1.55 0 1 0 -3.1 0M62.19 211.25a1.55 1.55 0 1 0 3.1 0a1.55 1.55 0 1 0 -3.1 0M63.26 211.19a1.55 1.55 0 1 0 3.1 0a1.55 1.55 0 1 0 -3.1 0M64.34 211.01a1.55 1.55 0 1 0 3.1 0a1.55 1.55 0 1 0 -3.1 0M65.42 208.84a1.55 1.55 0 1 0 3.1 0a1.55 1.55 0 1 0 -3.1 0M66.49 213.02a1.55 1.55 0 1 0 3.1 0a1.55 1.55 0 1 0 -3.1 0M67.57 207.72a1.55 1.55 0 1 0 3.1 0a1.55 1.55 0 1 0 -3.1 0M68.65 208.38a1.55 1.55 0 1 0 3.1 0a1.55 1.55 0 1 0 -3.1 0M69.73 204.61a1.55 1.55 0 1 0 3.1 0a1.55 1.55 0 1 0 -3.1 0M70.80 212.12a1.55 1.55 0 1 0 3.1 0a1.55 1.55 0 1 0 -3.1 0M71.88 203.54a1.55 1.55 0 1 0 3.1 0a1.55 1.55 0 1 0 -3.1 0M72.96 211.02a1.55 1.55 0 1 0 3.1 0a1.55 1.55 0 1 0 -3.1 0M74.03 202.85a1.55 1.55 0 1 0 3.1 0a1.55 1.55 0 1 0 -3.1 0M75.11 189.73a1.55 1.55 0 1 0 3.1 0a1.55 1.55 0 1 0 -3.1 0M76.19 187.81a1.55 1.55 0 1 0 3.1 0a1.55 1.55 0 1 0 -3.1 0M77.27 204.14a1.55 1.55 0 1 0 3.1 0a1.55 1.55 0 1 0 -3.1 0M78.34 196.92a1.55 1.55 0 1 0 3.1 0a1.55 1.55 0 1 0 -3.1 0M79.42 214.61a1.55 1.55 0 1 0 3.1 0a1.55 1.55 0 1 0 -3.1 0M80.50 207.93a1.55 1.55 0 1 0 3.1 0a1.55 1.55 0 1 0 -3.1 0M81.57 196.92a1.55 1.55 0 1 0 3.1 0a1.55 1.55 0 1 0 -3.1 0M82.65 194.85a1.55 1.55 0 1 0 3.1 0a1.55 1.55 0 1 0 -3.1 0M83.73 206.05a1.55 1.55 0 1 0 3.1 0a1.55 1.55 0 1 0 -3.1 0M84.80 202.94a1.55 1.55 0 1 0 3.1 0a1.55 1.55 0 1 0 -3.1 0M85.88 207.85a1.55 1.55 0 1 0 3.1 0a1.55 1.55 0 1 0 -3.1 0M86.96 214.26a1.55 1.55 0 1 0 3.1 0a1.55 1.55 0 1 0 -3.1 0M88.04 201.81a1.55 1.55 0 1 0 3.1 0a1.55 1.55 0 1 0 -3.1 0M89.11 208.17a1.55 1.55 0 1 0 3.1 0a1.55 1.55 0 1 0 -3.1 0M90.19 187.49a1.55 1.55 0 1 0 3.1 0a1.55 1.55 0 1 0 -3.1 0M91.27 205.38a1.55 1.55 0 1 0 3.1 0a1.55 1.55 0 1 0 -3.1 0M92.34 208.26a1.55 1.55 0 1 0 3.1 0a1.55 1.55 0 1 0 -3.1 0M93.42 207.45a1.55 1.55 0 1 0 3.1 0a1.55 1.55 0 1 0 -3.1 0M94.50 196.12a1.55 1.55 0 1 0 3.1 0a1.55 1.55 0 1 0 -3.1 0M95.58 209.51a1.55 1.55 0 1 0 3.1 0a1.55 1.55 0 1 0 -3.1 0M96.65 207.21a1.55 1.55 0 1 0 3.1 0a1.55 1.55 0 1 0 -3.1 0M97.73 193.25a1.55 1.55 0 1 0 3.1 0a1.55 1.55 0 1 0 -3.1 0M98.81 204.63a1.55 1.55 0 1 0 3.1 0a1.55 1.55 0 1 0 -3.1 0M99.88 205.17a1.55 1.55 0 1 0 3.1 0a1.55 1.55 0 1 0 -3.1 0M100.96 209.30a1.55 1.55 0 1 0 3.1 0a1.55 1.55 0 1 0 -3.1 0M102.04 188.45a1.55 1.55 0 1 0 3.1 0a1.55 1.55 0 1 0 -3.1 0M103.12 207.67a1.55 1.55 0 1 0 3.1 0a1.55 1.55 0 1 0 -3.1 0M104.19 212.15a1.55 1.55 0 1 0 3.1 0a1.55 1.55 0 1 0 -3.1 0M105.27 214.48a1.55 1.55 0 1 0 3.1 0a1.55 1.55 0 1 0 -3.1 0M106.35 200.99a1.55 1.55 0 1 0 3.1 0a1.55 1.55 0 1 0 -3.1 0M107.42 215.30a1.55 1.55 0 1 0 3.1 0a1.55 1.55 0 1 0 -3.1 0M108.50 204.71a1.55 1.55 0 1 0 3.1 0a1.55 1.55 0 1 0 -3.1 0M109.58 209.79a1.55 1.55 0 1 0 3.1 0a1.55 1.55 0 1 0 -3.1 0M110.66 198.21a1.55 1.55 0 1 0 3.1 0a1.55 1.55 0 1 0 -3.1 0M111.73 210.51a1.55 1.55 0 1 0 3.1 0a1.55 1.55 0 1 0 -3.1 0M112.81 202.38a1.55 1.55 0 1 0 3.1 0a1.55 1.55 0 1 0 -3.1 0M113.89 207.63a1.55 1.55 0 1 0 3.1 0a1.55 1.55 0 1 0 -3.1 0M114.96 199.84a1.55 1.55 0 1 0 3.1 0a1.55 1.55 0 1 0 -3.1 0M116.04 201.73a1.55 1.55 0 1 0 3.1 0a1.55 1.55 0 1 0 -3.1 0M117.12 210.27a1.55 1.55 0 1 0 3.1 0a1.55 1.55 0 1 0 -3.1 0M118.20 202.40a1.55 1.55 0 1 0 3.1 0a1.55 1.55 0 1 0 -3.1 0M119.27 197.72a1.55 1.55 0 1 0 3.1 0a1.55 1.55 0 1 0 -3.1 0M120.35 204.59a1.55 1.55 0 1 0 3.1 0a1.55 1.55 0 1 0 -3.1 0M121.43 206.53a1.55 1.55 0 1 0 3.1 0a1.55 1.55 0 1 0 -3.1 0M122.50 205.05a1.55 1.55 0 1 0 3.1 0a1.55 1.55 0 1 0 -3.1 0M123.58 209.81a1.55 1.55 0 1 0 3.1 0a1.55 1.55 0 1 0 -3.1 0M124.66 211.21a1.55 1.55 0 1 0 3.1 0a1.55 1.55 0 1 0 -3.1 0M125.73 206.67a1.55 1.55 0 1 0 3.1 0a1.55 1.55 0 1 0 -3.1 0M126.81 199.52a1.55 1.55 0 1 0 3.1 0a1.55 1.55 0 1 0 -3.1 0M127.89 188.77a1.55 1.55 0 1 0 3.1 0a1.55 1.55 0 1 0 -3.1 0M128.97 214.43a1.55 1.55 0 1 0 3.1 0a1.55 1.55 0 1 0 -3.1 0M130.04 206.40a1.55 1.55 0 1 0 3.1 0a1.55 1.55 0 1 0 -3.1 0M131.12 211.73a1.55 1.55 0 1 0 3.1 0a1.55 1.55 0 1 0 -3.1 0M132.20 207.32a1.55 1.55 0 1 0 3.1 0a1.55 1.55 0 1 0 -3.1 0M133.27 211.89a1.55 1.55 0 1 0 3.1 0a1.55 1.55 0 1 0 -3.1 0M134.35 212.24a1.55 1.55 0 1 0 3.1 0a1.55 1.55 0 1 0 -3.1 0M135.43 206.42a1.55 1.55 0 1 0 3.1 0a1.55 1.55 0 1 0 -3.1 0M136.51 202.25a1.55 1.55 0 1 0 3.1 0a1.55 1.55 0 1 0 -3.1 0M137.58 206.67a1.55 1.55 0 1 0 3.1 0a1.55 1.55 0 1 0 -3.1 0M138.66 204.51a1.55 1.55 0 1 0 3.1 0a1.55 1.55 0 1 0 -3.1 0M139.74 206.13a1.55 1.55 0 1 0 3.1 0a1.55 1.55 0 1 0 -3.1 0M140.81 204.65a1.55 1.55 0 1 0 3.1 0a1.55 1.55 0 1 0 -3.1 0M141.89 209.13a1.55 1.55 0 1 0 3.1 0a1.55 1.55 0 1 0 -3.1 0M142.97 192.93a1.55 1.55 0 1 0 3.1 0a1.55 1.55 0 1 0 -3.1 0M144.05 210.45a1.55 1.55 0 1 0 3.1 0a1.55 1.55 0 1 0 -3.1 0M145.12 209.41a1.55 1.55 0 1 0 3.1 0a1.55 1.55 0 1 0 -3.1 0M146.20 205.26a1.55 1.55 0 1 0 3.1 0a1.55 1.55 0 1 0 -3.1 0M147.28 207.50a1.55 1.55 0 1 0 3.1 0a1.55 1.55 0 1 0 -3.1 0M148.35 197.73a1.55 1.55 0 1 0 3.1 0a1.55 1.55 0 1 0 -3.1 0M149.43 204.23a1.55 1.55 0 1 0 3.1 0a1.55 1.55 0 1 0 -3.1 0M150.51 203.78a1.55 1.55 0 1 0 3.1 0a1.55 1.55 0 1 0 -3.1 0M151.59 204.49a1.55 1.55 0 1 0 3.1 0a1.55 1.55 0 1 0 -3.1 0M152.66 197.77a1.55 1.55 0 1 0 3.1 0a1.55 1.55 0 1 0 -3.1 0M153.74 189.41a1.55 1.55 0 1 0 3.1 0a1.55 1.55 0 1 0 -3.1 0M154.82 201.64a1.55 1.55 0 1 0 3.1 0a1.55 1.55 0 1 0 -3.1 0M155.89 206.52a1.55 1.55 0 1 0 3.1 0a1.55 1.55 0 1 0 -3.1 0M156.97 212.40a1.55 1.55 0 1 0 3.1 0a1.55 1.55 0 1 0 -3.1 0M158.05 204.67a1.55 1.55 0 1 0 3.1 0a1.55 1.55 0 1 0 -3.1 0M159.12 209.55a1.55 1.55 0 1 0 3.1 0a1.55 1.55 0 1 0 -3.1 0M160.20 208.79a1.55 1.55 0 1 0 3.1 0a1.55 1.55 0 1 0 -3.1 0M161.28 193.73a1.55 1.55 0 1 0 3.1 0a1.55 1.55 0 1 0 -3.1 0M162.36 204.85a1.55 1.55 0 1 0 3.1 0a1.55 1.55 0 1 0 -3.1 0M163.43 207.07a1.55 1.55 0 1 0 3.1 0a1.55 1.55 0 1 0 -3.1 0M164.51 209.92a1.55 1.55 0 1 0 3.1 0a1.55 1.55 0 1 0 -3.1 0M165.59 207.79a1.55 1.55 0 1 0 3.1 0a1.55 1.55 0 1 0 -3.1 0M166.66 207.22a1.55 1.55 0 1 0 3.1 0a1.55 1.55 0 1 0 -3.1 0M167.74 205.70a1.55 1.55 0 1 0 3.1 0a1.55 1.55 0 1 0 -3.1 0M168.82 199.21a1.55 1.55 0 1 0 3.1 0a1.55 1.55 0 1 0 -3.1 0M169.90 211.57a1.55 1.55 0 1 0 3.1 0a1.55 1.55 0 1 0 -3.1 0M170.97 214.76a1.55 1.55 0 1 0 3.1 0a1.55 1.55 0 1 0 -3.1 0M172.05 168.32a1.55 1.55 0 1 0 3.1 0a1.55 1.55 0 1 0 -3.1 0" fill="#F26D1F"/>
<line x1="79.1" y1="149.2" x2="92.8" y2="149.2" stroke="#5A8FCC" stroke-width="0.9"/>
<circle cx="85.95" cy="149.2" r="1.35" fill="#1F6FC0"/>
<line x1="79.1" y1="159.1" x2="92.8" y2="159.1" stroke="#F28B45" stroke-width="0.9"/>
<circle cx="85.95" cy="159.1" r="1.75" fill="#F26D1F"/>
<text x="94.90" y="151.00" font-size="7.3" text-anchor="start" textLength="19.80" lengthAdjust="spacingAndGlyphs">Actual</text>
<text x="94.40" y="161.40" font-size="7.3" text-anchor="start" textLength="29.50" lengthAdjust="spacingAndGlyphs">GPR-RBF</text>
<text x="91.50" y="239.60" font-size="7.2" text-anchor="start" font-weight="bold" class="b" textLength="23.50" lengthAdjust="spacingAndGlyphs">Dataset</text>
<text transform="translate(9.57,178.80) rotate(-90)" font-size="7.5" font-weight="bold" class="b" text-anchor="middle" textLength="84.00" lengthAdjust="spacingAndGlyphs">RFM shear strength (MPa)</text>
<path d="M218.20 136.60V219.60H356.90" fill="none" stroke="#BFBFBF" stroke-width="0.9"/>
<path d="M215.60 219.60H218.20M215.60 203.00H218.20M215.60 186.40H218.20M215.60 169.80H218.20M215.60 153.20H218.20M215.60 136.60H218.20" stroke="#BFBFBF" stroke-width="0.9"/>
<text x="210.80" y="221.40" font-size="7.4" text-anchor="end" textLength="12.10" lengthAdjust="spacingAndGlyphs">0.00</text>
<text x="210.80" y="204.80" font-size="7.4" text-anchor="end" textLength="12.10" lengthAdjust="spacingAndGlyphs">1.00</text>
<text x="210.80" y="188.20" font-size="7.4" text-anchor="end" textLength="12.10" lengthAdjust="spacingAndGlyphs">2.00</text>
<text x="210.80" y="171.60" font-size="7.4" text-anchor="end" textLength="12.10" lengthAdjust="spacingAndGlyphs">3.00</text>
<text x="210.80" y="155.00" font-size="7.4" text-anchor="end" textLength="12.10" lengthAdjust="spacingAndGlyphs">4.00</text>
<text x="210.80" y="138.40" font-size="7.4" text-anchor="end" textLength="12.10" lengthAdjust="spacingAndGlyphs">5.00</text>
<text x="218.80" y="231.60" font-size="7.4" text-anchor="middle" textLength="3.30" lengthAdjust="spacingAndGlyphs">1</text>
<text x="245.27" y="231.60" font-size="7.4" text-anchor="middle" textLength="6.60" lengthAdjust="spacingAndGlyphs">26</text>
<text x="271.74" y="231.60" font-size="7.4" text-anchor="middle" textLength="6.60" lengthAdjust="spacingAndGlyphs">51</text>
<text x="298.21" y="231.60" font-size="7.4" text-anchor="middle" textLength="6.60" lengthAdjust="spacingAndGlyphs">76</text>
<text x="324.68" y="231.60" font-size="7.4" text-anchor="middle" textLength="9.90" lengthAdjust="spacingAndGlyphs">101</text>
<text x="351.15" y="231.60" font-size="7.4" text-anchor="middle" textLength="9.90" lengthAdjust="spacingAndGlyphs">126</text>
<polyline points="218.20,203.33 219.26,213.46 220.32,218.11 221.38,199.68 222.44,218.77 223.49,214.62 224.55,174.78 225.61,166.48 226.67,212.96 227.73,214.62 228.79,215.45 229.85,189.72 230.91,211.30 231.96,218.77 233.02,214.62 234.08,199.68 235.14,218.77 236.20,217.94 237.26,212.96 238.32,194.70 239.38,187.56 240.43,218.77 241.49,201.34 242.55,191.38 243.61,203.00 244.67,197.19 245.73,209.64 246.79,212.96 247.85,217.11 248.90,217.94 249.96,214.62 251.02,216.28 252.08,212.96 253.14,218.77 254.20,214.62 255.26,215.45 256.32,207.65 257.37,214.62 258.43,209.64 259.49,216.28 260.55,207.98 261.61,193.04 262.67,187.56 263.73,211.30 264.79,201.67 265.85,218.77 266.90,212.96 267.96,187.73 269.02,206.32 270.08,211.30 271.14,203.33 272.20,214.62 273.26,219.60 274.32,200.51 275.37,211.30 276.43,193.04 277.49,204.66 278.55,213.29 279.61,209.64 280.67,206.32 281.73,214.62 282.79,212.13 283.84,198.02 284.90,209.64 285.96,212.96 287.02,214.62 288.08,186.40 289.14,213.79 290.20,217.94 291.26,218.77 292.31,204.66 293.37,218.77 294.43,207.98 295.49,212.96 296.55,198.02 297.61,216.28 298.67,208.81 299.73,212.96 300.78,201.67 301.84,205.49 302.90,211.30 303.96,208.81 305.02,206.32 306.08,209.64 307.14,207.98 308.20,206.32 309.25,214.62 310.31,217.94 311.37,209.64 312.43,200.51 313.49,188.06 314.55,219.60 315.61,212.96 316.67,214.62 317.73,211.30 318.78,216.28 319.84,217.11 320.90,212.96 321.96,205.49 323.02,212.96 324.08,211.63 325.14,213.79 326.20,204.66 327.25,216.28 328.31,194.04 329.37,218.77 330.43,214.62 331.49,208.31 332.55,212.96 333.61,198.85 334.67,207.98 335.72,205.16 336.78,211.30 337.84,201.34 338.90,189.22 339.96,205.16 341.02,212.96 342.08,218.77 343.14,210.47 344.19,214.62 345.25,211.30 346.31,194.04 347.37,211.63 348.43,214.62 349.49,216.28 350.55,211.30 351.61,212.96 352.66,214.62 353.72,204.66 354.78,216.28 355.84,218.77 356.90,154.03" fill="none" stroke="#5A8FCC" stroke-width="0.55"/>
<path d="M218.20 201.88l1.45 1.45l-1.45 1.45l-1.45 -1.45zM219.26 212.01l1.45 1.45l-1.45 1.45l-1.45 -1.45zM220.32 216.66l1.45 1.45l-1.45 1.45l-1.45 -1.45zM221.38 198.23l1.45 1.45l-1.45 1.45l-1.45 -1.45zM222.44 217.32l1.45 1.45l-1.45 1.45l-1.45 -1.45zM223.49 213.17l1.45 1.45l-1.45 1.45l-1.45 -1.45zM224.55 173.33l1.45 1.45l-1.45 1.45l-1.45 -1.45zM225.61 165.03l1.45 1.45l-1.45 1.45l-1.45 -1.45zM226.67 211.51l1.45 1.45l-1.45 1.45l-1.45 -1.45zM227.73 213.17l1.45 1.45l-1.45 1.45l-1.45 -1.45zM228.79 214.00l1.45 1.45l-1.45 1.45l-1.45 -1.45zM229.85 188.27l1.45 1.45l-1.45 1.45l-1.45 -1.45zM230.91 209.85l1.45 1.45l-1.45 1.45l-1.45 -1.45zM231.96 217.32l1.45 1.45l-1.45 1.45l-1.45 -1.45zM233.02 213.17l1.45 1.45l-1.45 1.45l-1.45 -1.45zM234.08 198.23l1.45 1.45l-1.45 1.45l-1.45 -1.45zM235.14 217.32l1.45 1.45l-1.45 1.45l-1.45 -1.45zM236.20 216.49l1.45 1.45l-1.45 1.45l-1.45 -1.45zM237.26 211.51l1.45 1.45l-1.45 1.45l-1.45 -1.45zM238.32 193.25l1.45 1.45l-1.45 1.45l-1.45 -1.45zM239.38 186.11l1.45 1.45l-1.45 1.45l-1.45 -1.45zM240.43 217.32l1.45 1.45l-1.45 1.45l-1.45 -1.45zM241.49 199.89l1.45 1.45l-1.45 1.45l-1.45 -1.45zM242.55 189.93l1.45 1.45l-1.45 1.45l-1.45 -1.45zM243.61 201.55l1.45 1.45l-1.45 1.45l-1.45 -1.45zM244.67 195.74l1.45 1.45l-1.45 1.45l-1.45 -1.45zM245.73 208.19l1.45 1.45l-1.45 1.45l-1.45 -1.45zM246.79 211.51l1.45 1.45l-1.45 1.45l-1.45 -1.45zM247.85 215.66l1.45 1.45l-1.45 1.45l-1.45 -1.45zM248.90 216.49l1.45 1.45l-1.45 1.45l-1.45 -1.45zM249.96 213.17l1.45 1.45l-1.45 1.45l-1.45 -1.45zM251.02 214.83l1.45 1.45l-1.45 1.45l-1.45 -1.45zM252.08 211.51l1.45 1.45l-1.45 1.45l-1.45 -1.45zM253.14 217.32l1.45 1.45l-1.45 1.45l-1.45 -1.45zM254.20 213.17l1.45 1.45l-1.45 1.45l-1.45 -1.45zM255.26 214.00l1.45 1.45l-1.45 1.45l-1.45 -1.45zM256.32 206.20l1.45 1.45l-1.45 1.45l-1.45 -1.45zM257.37 213.17l1.45 1.45l-1.45 1.45l-1.45 -1.45zM258.43 208.19l1.45 1.45l-1.45 1.45l-1.45 -1.45zM259.49 214.83l1.45 1.45l-1.45 1.45l-1.45 -1.45zM260.55 206.53l1.45 1.45l-1.45 1.45l-1.45 -1.45zM261.61 191.59l1.45 1.45l-1.45 1.45l-1.45 -1.45zM262.67 186.11l1.45 1.45l-1.45 1.45l-1.45 -1.45zM263.73 209.85l1.45 1.45l-1.45 1.45l-1.45 -1.45zM264.79 200.22l1.45 1.45l-1.45 1.45l-1.45 -1.45zM265.85 217.32l1.45 1.45l-1.45 1.45l-1.45 -1.45zM266.90 211.51l1.45 1.45l-1.45 1.45l-1.45 -1.45zM267.96 186.28l1.45 1.45l-1.45 1.45l-1.45 -1.45zM269.02 204.87l1.45 1.45l-1.45 1.45l-1.45 -1.45zM270.08 209.85l1.45 1.45l-1.45 1.45l-1.45 -1.45zM271.14 201.88l1.45 1.45l-1.45 1.45l-1.45 -1.45zM272.20 213.17l1.45 1.45l-1.45 1.45l-1.45 -1.45zM273.26 218.15l1.45 1.45l-1.45 1.45l-1.45 -1.45zM274.32 199.06l1.45 1.45l-1.45 1.45l-1.45 -1.45zM275.37 209.85l1.45 1.45l-1.45 1.45l-1.45 -1.45zM276.43 191.59l1.45 1.45l-1.45 1.45l-1.45 -1.45zM277.49 203.21l1.45 1.45l-1.45 1.45l-1.45 -1.45zM278.55 211.84l1.45 1.45l-1.45 1.45l-1.45 -1.45zM279.61 208.19l1.45 1.45l-1.45 1.45l-1.45 -1.45zM280.67 204.87l1.45 1.45l-1.45 1.45l-1.45 -1.45zM281.73 213.17l1.45 1.45l-1.45 1.45l-1.45 -1.45zM282.79 210.68l1.45 1.45l-1.45 1.45l-1.45 -1.45zM283.84 196.57l1.45 1.45l-1.45 1.45l-1.45 -1.45zM284.90 208.19l1.45 1.45l-1.45 1.45l-1.45 -1.45zM285.96 211.51l1.45 1.45l-1.45 1.45l-1.45 -1.45zM287.02 213.17l1.45 1.45l-1.45 1.45l-1.45 -1.45zM288.08 184.95l1.45 1.45l-1.45 1.45l-1.45 -1.45zM289.14 212.34l1.45 1.45l-1.45 1.45l-1.45 -1.45zM290.20 216.49l1.45 1.45l-1.45 1.45l-1.45 -1.45zM291.26 217.32l1.45 1.45l-1.45 1.45l-1.45 -1.45zM292.31 203.21l1.45 1.45l-1.45 1.45l-1.45 -1.45zM293.37 217.32l1.45 1.45l-1.45 1.45l-1.45 -1.45zM294.43 206.53l1.45 1.45l-1.45 1.45l-1.45 -1.45zM295.49 211.51l1.45 1.45l-1.45 1.45l-1.45 -1.45zM296.55 196.57l1.45 1.45l-1.45 1.45l-1.45 -1.45zM297.61 214.83l1.45 1.45l-1.45 1.45l-1.45 -1.45zM298.67 207.36l1.45 1.45l-1.45 1.45l-1.45 -1.45zM299.73 211.51l1.45 1.45l-1.45 1.45l-1.45 -1.45zM300.78 200.22l1.45 1.45l-1.45 1.45l-1.45 -1.45zM301.84 204.04l1.45 1.45l-1.45 1.45l-1.45 -1.45zM302.90 209.85l1.45 1.45l-1.45 1.45l-1.45 -1.45zM303.96 207.36l1.45 1.45l-1.45 1.45l-1.45 -1.45zM305.02 204.87l1.45 1.45l-1.45 1.45l-1.45 -1.45zM306.08 208.19l1.45 1.45l-1.45 1.45l-1.45 -1.45zM307.14 206.53l1.45 1.45l-1.45 1.45l-1.45 -1.45zM308.20 204.87l1.45 1.45l-1.45 1.45l-1.45 -1.45zM309.25 213.17l1.45 1.45l-1.45 1.45l-1.45 -1.45zM310.31 216.49l1.45 1.45l-1.45 1.45l-1.45 -1.45zM311.37 208.19l1.45 1.45l-1.45 1.45l-1.45 -1.45zM312.43 199.06l1.45 1.45l-1.45 1.45l-1.45 -1.45zM313.49 186.61l1.45 1.45l-1.45 1.45l-1.45 -1.45zM314.55 218.15l1.45 1.45l-1.45 1.45l-1.45 -1.45zM315.61 211.51l1.45 1.45l-1.45 1.45l-1.45 -1.45zM316.67 213.17l1.45 1.45l-1.45 1.45l-1.45 -1.45zM317.73 209.85l1.45 1.45l-1.45 1.45l-1.45 -1.45zM318.78 214.83l1.45 1.45l-1.45 1.45l-1.45 -1.45zM319.84 215.66l1.45 1.45l-1.45 1.45l-1.45 -1.45zM320.90 211.51l1.45 1.45l-1.45 1.45l-1.45 -1.45zM321.96 204.04l1.45 1.45l-1.45 1.45l-1.45 -1.45zM323.02 211.51l1.45 1.45l-1.45 1.45l-1.45 -1.45zM324.08 210.18l1.45 1.45l-1.45 1.45l-1.45 -1.45zM325.14 212.34l1.45 1.45l-1.45 1.45l-1.45 -1.45zM326.20 203.21l1.45 1.45l-1.45 1.45l-1.45 -1.45zM327.25 214.83l1.45 1.45l-1.45 1.45l-1.45 -1.45zM328.31 192.59l1.45 1.45l-1.45 1.45l-1.45 -1.45zM329.37 217.32l1.45 1.45l-1.45 1.45l-1.45 -1.45zM330.43 213.17l1.45 1.45l-1.45 1.45l-1.45 -1.45zM331.49 206.86l1.45 1.45l-1.45 1.45l-1.45 -1.45zM332.55 211.51l1.45 1.45l-1.45 1.45l-1.45 -1.45zM333.61 197.40l1.45 1.45l-1.45 1.45l-1.45 -1.45zM334.67 206.53l1.45 1.45l-1.45 1.45l-1.45 -1.45zM335.72 203.71l1.45 1.45l-1.45 1.45l-1.45 -1.45zM336.78 209.85l1.45 1.45l-1.45 1.45l-1.45 -1.45zM337.84 199.89l1.45 1.45l-1.45 1.45l-1.45 -1.45zM338.90 187.77l1.45 1.45l-1.45 1.45l-1.45 -1.45zM339.96 203.71l1.45 1.45l-1.45 1.45l-1.45 -1.45zM341.02 211.51l1.45 1.45l-1.45 1.45l-1.45 -1.45zM342.08 217.32l1.45 1.45l-1.45 1.45l-1.45 -1.45zM343.14 209.02l1.45 1.45l-1.45 1.45l-1.45 -1.45zM344.19 213.17l1.45 1.45l-1.45 1.45l-1.45 -1.45zM345.25 209.85l1.45 1.45l-1.45 1.45l-1.45 -1.45zM346.31 192.59l1.45 1.45l-1.45 1.45l-1.45 -1.45zM347.37 210.18l1.45 1.45l-1.45 1.45l-1.45 -1.45zM348.43 213.17l1.45 1.45l-1.45 1.45l-1.45 -1.45zM349.49 214.83l1.45 1.45l-1.45 1.45l-1.45 -1.45zM350.55 209.85l1.45 1.45l-1.45 1.45l-1.45 -1.45zM351.61 211.51l1.45 1.45l-1.45 1.45l-1.45 -1.45zM352.66 213.17l1.45 1.45l-1.45 1.45l-1.45 -1.45zM353.72 203.21l1.45 1.45l-1.45 1.45l-1.45 -1.45zM354.78 214.83l1.45 1.45l-1.45 1.45l-1.45 -1.45zM355.84 217.32l1.45 1.45l-1.45 1.45l-1.45 -1.45zM356.90 152.58l1.45 1.45l-1.45 1.45l-1.45 -1.45z" fill="#1F6FC0"/>
<polyline points="218.20,203.83 219.26,214.24 220.32,207.32 221.38,198.88 222.44,217.66 223.49,215.46 224.55,178.10 225.61,165.65 226.67,213.49 227.73,214.53 228.79,216.51 229.85,190.55 230.91,212.07 231.96,215.53 233.02,214.74 234.08,202.03 235.14,216.80 236.20,217.41 237.26,212.09 238.32,196.03 239.38,188.06 240.43,217.38 241.49,202.00 242.55,201.01 243.61,204.02 244.67,195.53 245.73,216.73 246.79,212.94 247.85,216.78 248.90,214.42 249.96,216.17 251.02,215.88 252.08,216.79 253.14,219.45 254.20,217.37 255.26,210.25 256.32,206.55 257.37,214.24 258.43,209.41 259.49,218.61 260.55,210.38 261.61,194.00 262.67,188.89 263.73,210.70 264.79,206.09 265.85,218.78 266.90,209.20 267.96,199.35 269.02,199.68 270.08,215.06 271.14,205.68 272.20,214.34 273.26,217.73 274.32,199.55 275.37,211.36 276.43,193.87 277.49,203.70 278.55,213.63 279.61,208.04 280.67,200.51 281.73,210.96 282.79,212.55 283.84,201.46 284.90,209.55 285.96,214.01 287.02,216.12 288.08,186.40 289.14,211.96 290.20,216.51 291.26,217.48 292.31,203.65 293.37,216.39 294.43,208.71 295.49,212.49 296.55,199.75 297.61,216.36 298.67,210.05 299.73,211.88 300.78,198.31 301.84,203.86 302.90,209.48 303.96,207.84 305.02,207.69 306.08,208.48 307.14,204.02 308.20,209.31 309.25,212.49 310.31,216.03 311.37,208.09 312.43,198.67 313.49,187.23 314.55,215.82 315.61,211.96 316.67,212.45 317.73,210.78 318.78,215.00 319.84,217.27 320.90,211.24 321.96,202.97 323.02,212.92 324.08,210.89 325.14,212.08 326.20,205.09 327.25,213.67 328.31,195.53 329.37,218.56 330.43,212.59 331.49,207.12 332.55,210.34 333.61,199.38 334.67,207.67 335.72,208.72 336.78,208.25 337.84,203.97 338.90,189.72 339.96,207.83 341.02,213.88 342.08,217.73 343.14,211.71 344.19,212.22 345.25,209.68 346.31,196.69 347.37,212.02 348.43,215.68 349.49,216.47 350.55,212.09 351.61,212.58 352.66,212.47 353.72,205.40 354.78,217.09 355.84,215.42 356.90,160.67" fill="none" stroke="#F28B45" stroke-width="0.9"/>
<path d="M216.65 203.83a1.55 1.55 0 1 0 3.1 0a1.55 1.55 0 1 0 -3.1 0M217.71 214.24a1.55 1.55 0 1 0 3.1 0a1.55 1.55 0 1 0 -3.1 0M218.77 207.32a1.55 1.55 0 1 0 3.1 0a1.55 1.55 0 1 0 -3.1 0M219.83 198.88a1.55 1.55 0 1 0 3.1 0a1.55 1.55 0 1 0 -3.1 0M220.89 217.66a1.55 1.55 0 1 0 3.1 0a1.55 1.55 0 1 0 -3.1 0M221.94 215.46a1.55 1.55 0 1 0 3.1 0a1.55 1.55 0 1 0 -3.1 0M223.00 178.10a1.55 1.55 0 1 0 3.1 0a1.55 1.55 0 1 0 -3.1 0M224.06 165.65a1.55 1.55 0 1 0 3.1 0a1.55 1.55 0 1 0 -3.1 0M225.12 213.49a1.55 1.55 0 1 0 3.1 0a1.55 1.55 0 1 0 -3.1 0M226.18 214.53a1.55 1.55 0 1 0 3.1 0a1.55 1.55 0 1 0 -3.1 0M227.24 216.51a1.55 1.55 0 1 0 3.1 0a1.55 1.55 0 1 0 -3.1 0M228.30 190.55a1.55 1.55 0 1 0 3.1 0a1.55 1.55 0 1 0 -3.1 0M229.36 212.07a1.55 1.55 0 1 0 3.1 0a1.55 1.55 0 1 0 -3.1 0M230.41 215.53a1.55 1.55 0 1 0 3.1 0a1.55 1.55 0 1 0 -3.1 0M231.47 214.74a1.55 1.55 0 1 0 3.1 0a1.55 1.55 0 1 0 -3.1 0M232.53 202.03a1.55 1.55 0 1 0 3.1 0a1.55 1.55 0 1 0 -3.1 0M233.59 216.80a1.55 1.55 0 1 0 3.1 0a1.55 1.55 0 1 0 -3.1 0M234.65 217.41a1.55 1.55 0 1 0 3.1 0a1.55 1.55 0 1 0 -3.1 0M235.71 212.09a1.55 1.55 0 1 0 3.1 0a1.55 1.55 0 1 0 -3.1 0M236.77 196.03a1.55 1.55 0 1 0 3.1 0a1.55 1.55 0 1 0 -3.1 0M237.83 188.06a1.55 1.55 0 1 0 3.1 0a1.55 1.55 0 1 0 -3.1 0M238.88 217.38a1.55 1.55 0 1 0 3.1 0a1.55 1.55 0 1 0 -3.1 0M239.94 202.00a1.55 1.55 0 1 0 3.1 0a1.55 1.55 0 1 0 -3.1 0M241.00 201.01a1.55 1.55 0 1 0 3.1 0a1.55 1.55 0 1 0 -3.1 0M242.06 204.02a1.55 1.55 0 1 0 3.1 0a1.55 1.55 0 1 0 -3.1 0M243.12 195.53a1.55 1.55 0 1 0 3.1 0a1.55 1.55 0 1 0 -3.1 0M244.18 216.73a1.55 1.55 0 1 0 3.1 0a1.55 1.55 0 1 0 -3.1 0M245.24 212.94a1.55 1.55 0 1 0 3.1 0a1.55 1.55 0 1 0 -3.1 0M246.30 216.78a1.55 1.55 0 1 0 3.1 0a1.55 1.55 0 1 0 -3.1 0M247.35 214.42a1.55 1.55 0 1 0 3.1 0a1.55 1.55 0 1 0 -3.1 0M248.41 216.17a1.55 1.55 0 1 0 3.1 0a1.55 1.55 0 1 0 -3.1 0M249.47 215.88a1.55 1.55 0 1 0 3.1 0a1.55 1.55 0 1 0 -3.1 0M250.53 216.79a1.55 1.55 0 1 0 3.1 0a1.55 1.55 0 1 0 -3.1 0M251.59 219.45a1.55 1.55 0 1 0 3.1 0a1.55 1.55 0 1 0 -3.1 0M252.65 217.37a1.55 1.55 0 1 0 3.1 0a1.55 1.55 0 1 0 -3.1 0M253.71 210.25a1.55 1.55 0 1 0 3.1 0a1.55 1.55 0 1 0 -3.1 0M254.77 206.55a1.55 1.55 0 1 0 3.1 0a1.55 1.55 0 1 0 -3.1 0M255.82 214.24a1.55 1.55 0 1 0 3.1 0a1.55 1.55 0 1 0 -3.1 0M256.88 209.41a1.55 1.55 0 1 0 3.1 0a1.55 1.55 0 1 0 -3.1 0M257.94 218.61a1.55 1.55 0 1 0 3.1 0a1.55 1.55 0 1 0 -3.1 0M259.00 210.38a1.55 1.55 0 1 0 3.1 0a1.55 1.55 0 1 0 -3.1 0M260.06 194.00a1.55 1.55 0 1 0 3.1 0a1.55 1.55 0 1 0 -3.1 0M261.12 188.89a1.55 1.55 0 1 0 3.1 0a1.55 1.55 0 1 0 -3.1 0M262.18 210.70a1.55 1.55 0 1 0 3.1 0a1.55 1.55 0 1 0 -3.1 0M263.24 206.09a1.55 1.55 0 1 0 3.1 0a1.55 1.55 0 1 0 -3.1 0M264.30 218.78a1.55 1.55 0 1 0 3.1 0a1.55 1.55 0 1 0 -3.1 0M265.35 209.20a1.55 1.55 0 1 0 3.1 0a1.55 1.55 0 1 0 -3.1 0M266.41 199.35a1.55 1.55 0 1 0 3.1 0a1.55 1.55 0 1 0 -3.1 0M267.47 199.68a1.55 1.55 0 1 0 3.1 0a1.55 1.55 0 1 0 -3.1 0M268.53 215.06a1.55 1.55 0 1 0 3.1 0a1.55 1.55 0 1 0 -3.1 0M269.59 205.68a1.55 1.55 0 1 0 3.1 0a1.55 1.55 0 1 0 -3.1 0M270.65 214.34a1.55 1.55 0 1 0 3.1 0a1.55 1.55 0 1 0 -3.1 0M271.71 217.73a1.55 1.55 0 1 0 3.1 0a1.55 1.55 0 1 0 -3.1 0M272.77 199.55a1.55 1.55 0 1 0 3.1 0a1.55 1.55 0 1 0 -3.1 0M273.82 211.36a1.55 1.55 0 1 0 3.1 0a1.55 1.55 0 1 0 -3.1 0M274.88 193.87a1.55 1.55 0 1 0 3.1 0a1.55 1.55 0 1 0 -3.1 0M275.94 203.70a1.55 1.55 0 1 0 3.1 0a1.55 1.55 0 1 0 -3.1 0M277.00 213.63a1.55 1.55 0 1 0 3.1 0a1.55 1.55 0 1 0 -3.1 0M278.06 208.04a1.55 1.55 0 1 0 3.1 0a1.55 1.55 0 1 0 -3.1 0M279.12 200.51a1.55 1.55 0 1 0 3.1 0a1.55 1.55 0 1 0 -3.1 0M280.18 210.96a1.55 1.55 0 1 0 3.1 0a1.55 1.55 0 1 0 -3.1 0M281.24 212.55a1.55 1.55 0 1 0 3.1 0a1.55 1.55 0 1 0 -3.1 0M282.29 201.46a1.55 1.55 0 1 0 3.1 0a1.55 1.55 0 1 0 -3.1 0M283.35 209.55a1.55 1.55 0 1 0 3.1 0a1.55 1.55 0 1 0 -3.1 0M284.41 214.01a1.55 1.55 0 1 0 3.1 0a1.55 1.55 0 1 0 -3.1 0M285.47 216.12a1.55 1.55 0 1 0 3.1 0a1.55 1.55 0 1 0 -3.1 0M286.53 186.40a1.55 1.55 0 1 0 3.1 0a1.55 1.55 0 1 0 -3.1 0M287.59 211.96a1.55 1.55 0 1 0 3.1 0a1.55 1.55 0 1 0 -3.1 0M288.65 216.51a1.55 1.55 0 1 0 3.1 0a1.55 1.55 0 1 0 -3.1 0M289.71 217.48a1.55 1.55 0 1 0 3.1 0a1.55 1.55 0 1 0 -3.1 0M290.76 203.65a1.55 1.55 0 1 0 3.1 0a1.55 1.55 0 1 0 -3.1 0M291.82 216.39a1.55 1.55 0 1 0 3.1 0a1.55 1.55 0 1 0 -3.1 0M292.88 208.71a1.55 1.55 0 1 0 3.1 0a1.55 1.55 0 1 0 -3.1 0M293.94 212.49a1.55 1.55 0 1 0 3.1 0a1.55 1.55 0 1 0 -3.1 0M295.00 199.75a1.55 1.55 0 1 0 3.1 0a1.55 1.55 0 1 0 -3.1 0M296.06 216.36a1.55 1.55 0 1 0 3.1 0a1.55 1.55 0 1 0 -3.1 0M297.12 210.05a1.55 1.55 0 1 0 3.1 0a1.55 1.55 0 1 0 -3.1 0M298.18 211.88a1.55 1.55 0 1 0 3.1 0a1.55 1.55 0 1 0 -3.1 0M299.23 198.31a1.55 1.55 0 1 0 3.1 0a1.55 1.55 0 1 0 -3.1 0M300.29 203.86a1.55 1.55 0 1 0 3.1 0a1.55 1.55 0 1 0 -3.1 0M301.35 209.48a1.55 1.55 0 1 0 3.1 0a1.55 1.55 0 1 0 -3.1 0M302.41 207.84a1.55 1.55 0 1 0 3.1 0a1.55 1.55 0 1 0 -3.1 0M303.47 207.69a1.55 1.55 0 1 0 3.1 0a1.55 1.55 0 1 0 -3.1 0M304.53 208.48a1.55 1.55 0 1 0 3.1 0a1.55 1.55 0 1 0 -3.1 0M305.59 204.02a1.55 1.55 0 1 0 3.1 0a1.55 1.55 0 1 0 -3.1 0M306.65 209.31a1.55 1.55 0 1 0 3.1 0a1.55 1.55 0 1 0 -3.1 0M307.70 212.49a1.55 1.55 0 1 0 3.1 0a1.55 1.55 0 1 0 -3.1 0M308.76 216.03a1.55 1.55 0 1 0 3.1 0a1.55 1.55 0 1 0 -3.1 0M309.82 208.09a1.55 1.55 0 1 0 3.1 0a1.55 1.55 0 1 0 -3.1 0M310.88 198.67a1.55 1.55 0 1 0 3.1 0a1.55 1.55 0 1 0 -3.1 0M311.94 187.23a1.55 1.55 0 1 0 3.1 0a1.55 1.55 0 1 0 -3.1 0M313.00 215.82a1.55 1.55 0 1 0 3.1 0a1.55 1.55 0 1 0 -3.1 0M314.06 211.96a1.55 1.55 0 1 0 3.1 0a1.55 1.55 0 1 0 -3.1 0M315.12 212.45a1.55 1.55 0 1 0 3.1 0a1.55 1.55 0 1 0 -3.1 0M316.18 210.78a1.55 1.55 0 1 0 3.1 0a1.55 1.55 0 1 0 -3.1 0M317.23 215.00a1.55 1.55 0 1 0 3.1 0a1.55 1.55 0 1 0 -3.1 0M318.29 217.27a1.55 1.55 0 1 0 3.1 0a1.55 1.55 0 1 0 -3.1 0M319.35 211.24a1.55 1.55 0 1 0 3.1 0a1.55 1.55 0 1 0 -3.1 0M320.41 202.97a1.55 1.55 0 1 0 3.1 0a1.55 1.55 0 1 0 -3.1 0M321.47 212.92a1.55 1.55 0 1 0 3.1 0a1.55 1.55 0 1 0 -3.1 0M322.53 210.89a1.55 1.55 0 1 0 3.1 0a1.55 1.55 0 1 0 -3.1 0M323.59 212.08a1.55 1.55 0 1 0 3.1 0a1.55 1.55 0 1 0 -3.1 0M324.65 205.09a1.55 1.55 0 1 0 3.1 0a1.55 1.55 0 1 0 -3.1 0M325.70 213.67a1.55 1.55 0 1 0 3.1 0a1.55 1.55 0 1 0 -3.1 0M326.76 195.53a1.55 1.55 0 1 0 3.1 0a1.55 1.55 0 1 0 -3.1 0M327.82 218.56a1.55 1.55 0 1 0 3.1 0a1.55 1.55 0 1 0 -3.1 0M328.88 212.59a1.55 1.55 0 1 0 3.1 0a1.55 1.55 0 1 0 -3.1 0M329.94 207.12a1.55 1.55 0 1 0 3.1 0a1.55 1.55 0 1 0 -3.1 0M331.00 210.34a1.55 1.55 0 1 0 3.1 0a1.55 1.55 0 1 0 -3.1 0M332.06 199.38a1.55 1.55 0 1 0 3.1 0a1.55 1.55 0 1 0 -3.1 0M333.12 207.67a1.55 1.55 0 1 0 3.1 0a1.55 1.55 0 1 0 -3.1 0M334.17 208.72a1.55 1.55 0 1 0 3.1 0a1.55 1.55 0 1 0 -3.1 0M335.23 208.25a1.55 1.55 0 1 0 3.1 0a1.55 1.55 0 1 0 -3.1 0M336.29 203.97a1.55 1.55 0 1 0 3.1 0a1.55 1.55 0 1 0 -3.1 0M337.35 189.72a1.55 1.55 0 1 0 3.1 0a1.55 1.55 0 1 0 -3.1 0M338.41 207.83a1.55 1.55 0 1 0 3.1 0a1.55 1.55 0 1 0 -3.1 0M339.47 213.88a1.55 1.55 0 1 0 3.1 0a1.55 1.55 0 1 0 -3.1 0M340.53 217.73a1.55 1.55 0 1 0 3.1 0a1.55 1.55 0 1 0 -3.1 0M341.59 211.71a1.55 1.55 0 1 0 3.1 0a1.55 1.55 0 1 0 -3.1 0M342.64 212.22a1.55 1.55 0 1 0 3.1 0a1.55 1.55 0 1 0 -3.1 0M343.70 209.68a1.55 1.55 0 1 0 3.1 0a1.55 1.55 0 1 0 -3.1 0M344.76 196.69a1.55 1.55 0 1 0 3.1 0a1.55 1.55 0 1 0 -3.1 0M345.82 212.02a1.55 1.55 0 1 0 3.1 0a1.55 1.55 0 1 0 -3.1 0M346.88 215.68a1.55 1.55 0 1 0 3.1 0a1.55 1.55 0 1 0 -3.1 0M347.94 216.47a1.55 1.55 0 1 0 3.1 0a1.55 1.55 0 1 0 -3.1 0M349.00 212.09a1.55 1.55 0 1 0 3.1 0a1.55 1.55 0 1 0 -3.1 0M350.06 212.58a1.55 1.55 0 1 0 3.1 0a1.55 1.55 0 1 0 -3.1 0M351.11 212.47a1.55 1.55 0 1 0 3.1 0a1.55 1.55 0 1 0 -3.1 0M352.17 205.40a1.55 1.55 0 1 0 3.1 0a1.55 1.55 0 1 0 -3.1 0M353.23 217.09a1.55 1.55 0 1 0 3.1 0a1.55 1.55 0 1 0 -3.1 0M354.29 215.42a1.55 1.55 0 1 0 3.1 0a1.55 1.55 0 1 0 -3.1 0M355.35 160.67a1.55 1.55 0 1 0 3.1 0a1.55 1.55 0 1 0 -3.1 0" fill="#F26D1F"/>
<line x1="273.9" y1="149.0" x2="287.8" y2="149.0" stroke="#5A8FCC" stroke-width="0.9"/>
<circle cx="280.85" cy="149.0" r="1.35" fill="#1F6FC0"/>
<line x1="273.9" y1="159.6" x2="287.8" y2="159.6" stroke="#F28B45" stroke-width="0.9"/>
<circle cx="280.85" cy="159.6" r="1.75" fill="#F26D1F"/>
<text x="289.60" y="150.70" font-size="7.3" text-anchor="start" textLength="19.90" lengthAdjust="spacingAndGlyphs">Actual</text>
<text x="289.10" y="161.40" font-size="7.3" text-anchor="start" textLength="30.60" lengthAdjust="spacingAndGlyphs">GPR-Poly</text>
<text x="276.80" y="240.80" font-size="7.2" text-anchor="start" font-weight="bold" class="b" textLength="22.80" lengthAdjust="spacingAndGlyphs">Dataset</text>
<text transform="translate(194.47,180.65) rotate(-90)" font-size="7.5" font-weight="bold" class="b" text-anchor="middle" textLength="84.30" lengthAdjust="spacingAndGlyphs">RFM shear strength (MPa)</text>
<path d="M405.30 135.40V213.10H544.25" fill="none" stroke="#BFBFBF" stroke-width="0.9"/>
<path d="M402.70 213.10H405.30M402.70 197.56H405.30M402.70 182.02H405.30M402.70 166.48H405.30M402.70 150.94H405.30M402.70 135.40H405.30" stroke="#BFBFBF" stroke-width="0.9"/>
<text x="397.80" y="214.90" font-size="7.4" text-anchor="end" textLength="12.10" lengthAdjust="spacingAndGlyphs">0.00</text>
<text x="397.80" y="199.36" font-size="7.4" text-anchor="end" textLength="12.10" lengthAdjust="spacingAndGlyphs">1.00</text>
<text x="397.80" y="183.82" font-size="7.4" text-anchor="end" textLength="12.10" lengthAdjust="spacingAndGlyphs">2.00</text>
<text x="397.80" y="168.28" font-size="7.4" text-anchor="end" textLength="12.10" lengthAdjust="spacingAndGlyphs">3.00</text>
<text x="397.80" y="152.74" font-size="7.4" text-anchor="end" textLength="12.10" lengthAdjust="spacingAndGlyphs">4.00</text>
<text x="397.80" y="137.20" font-size="7.4" text-anchor="end" textLength="12.10" lengthAdjust="spacingAndGlyphs">5.00</text>
<text x="405.90" y="225.50" font-size="7.4" text-anchor="middle" textLength="3.30" lengthAdjust="spacingAndGlyphs">1</text>
<text x="432.42" y="225.50" font-size="7.4" text-anchor="middle" textLength="6.60" lengthAdjust="spacingAndGlyphs">26</text>
<text x="458.93" y="225.50" font-size="7.4" text-anchor="middle" textLength="6.60" lengthAdjust="spacingAndGlyphs">51</text>
<text x="485.45" y="225.50" font-size="7.4" text-anchor="middle" textLength="6.60" lengthAdjust="spacingAndGlyphs">76</text>
<text x="511.97" y="225.50" font-size="7.4" text-anchor="middle" textLength="9.90" lengthAdjust="spacingAndGlyphs">101</text>
<text x="538.49" y="225.50" font-size="7.4" text-anchor="middle" textLength="9.90" lengthAdjust="spacingAndGlyphs">126</text>
<polyline points="405.30,197.87 406.36,207.35 407.42,211.70 408.48,194.45 409.54,212.32 410.60,208.44 411.66,171.14 412.72,163.37 413.79,206.88 414.85,208.44 415.91,209.22 416.97,185.13 418.03,205.33 419.09,212.32 420.15,208.44 421.21,194.45 422.27,212.32 423.33,211.55 424.39,206.88 425.45,189.79 426.51,183.11 427.57,212.32 428.64,196.01 429.70,186.68 430.76,197.56 431.82,192.12 432.88,203.78 433.94,206.88 435.00,210.77 436.06,211.55 437.12,208.44 438.18,209.99 439.24,206.88 440.30,212.32 441.36,208.44 442.42,209.22 443.48,201.91 444.55,208.44 445.61,203.78 446.67,209.99 447.73,202.22 448.79,188.24 449.85,183.11 450.91,205.33 451.97,196.32 453.03,212.32 454.09,206.88 455.15,183.26 456.21,200.67 457.27,205.33 458.33,197.87 459.40,208.44 460.46,213.10 461.52,195.23 462.58,205.33 463.64,188.24 464.70,199.11 465.76,207.19 466.82,203.78 467.88,200.67 468.94,208.44 470.00,206.11 471.06,192.90 472.12,203.78 473.18,206.88 474.24,208.44 475.31,182.02 476.37,207.66 477.43,211.55 478.49,212.32 479.55,199.11 480.61,212.32 481.67,202.22 482.73,206.88 483.79,192.90 484.85,209.99 485.91,203.00 486.97,206.88 488.03,196.32 489.09,199.89 490.15,205.33 491.22,203.00 492.28,200.67 493.34,203.78 494.40,202.22 495.46,200.67 496.52,208.44 497.58,211.55 498.64,203.78 499.70,195.23 500.76,183.57 501.82,213.10 502.88,206.88 503.94,208.44 505.00,205.33 506.07,209.99 507.13,210.77 508.19,206.88 509.25,199.89 510.31,206.88 511.37,205.64 512.43,207.66 513.49,199.11 514.55,209.99 515.61,189.17 516.67,212.32 517.73,208.44 518.79,202.53 519.85,206.88 520.91,193.68 521.98,202.22 523.04,199.58 524.10,205.33 525.16,196.01 526.22,184.66 527.28,199.58 528.34,206.88 529.40,212.32 530.46,204.55 531.52,208.44 532.58,205.33 533.64,189.17 534.70,205.64 535.76,208.44 536.83,209.99 537.89,205.33 538.95,206.88 540.01,208.44 541.07,199.11 542.13,209.99 543.19,212.32 544.25,151.72" fill="none" stroke="#5A8FCC" stroke-width="0.55"/>
<path d="M405.30 196.42l1.45 1.45l-1.45 1.45l-1.45 -1.45zM406.36 205.90l1.45 1.45l-1.45 1.45l-1.45 -1.45zM407.42 210.25l1.45 1.45l-1.45 1.45l-1.45 -1.45zM408.48 193.00l1.45 1.45l-1.45 1.45l-1.45 -1.45zM409.54 210.87l1.45 1.45l-1.45 1.45l-1.45 -1.45zM410.60 206.99l1.45 1.45l-1.45 1.45l-1.45 -1.45zM411.66 169.69l1.45 1.45l-1.45 1.45l-1.45 -1.45zM412.72 161.92l1.45 1.45l-1.45 1.45l-1.45 -1.45zM413.79 205.43l1.45 1.45l-1.45 1.45l-1.45 -1.45zM414.85 206.99l1.45 1.45l-1.45 1.45l-1.45 -1.45zM415.91 207.77l1.45 1.45l-1.45 1.45l-1.45 -1.45zM416.97 183.68l1.45 1.45l-1.45 1.45l-1.45 -1.45zM418.03 203.88l1.45 1.45l-1.45 1.45l-1.45 -1.45zM419.09 210.87l1.45 1.45l-1.45 1.45l-1.45 -1.45zM420.15 206.99l1.45 1.45l-1.45 1.45l-1.45 -1.45zM421.21 193.00l1.45 1.45l-1.45 1.45l-1.45 -1.45zM422.27 210.87l1.45 1.45l-1.45 1.45l-1.45 -1.45zM423.33 210.10l1.45 1.45l-1.45 1.45l-1.45 -1.45zM424.39 205.43l1.45 1.45l-1.45 1.45l-1.45 -1.45zM425.45 188.34l1.45 1.45l-1.45 1.45l-1.45 -1.45zM426.51 181.66l1.45 1.45l-1.45 1.45l-1.45 -1.45zM427.57 210.87l1.45 1.45l-1.45 1.45l-1.45 -1.45zM428.64 194.56l1.45 1.45l-1.45 1.45l-1.45 -1.45zM429.70 185.23l1.45 1.45l-1.45 1.45l-1.45 -1.45zM430.76 196.11l1.45 1.45l-1.45 1.45l-1.45 -1.45zM431.82 190.67l1.45 1.45l-1.45 1.45l-1.45 -1.45zM432.88 202.33l1.45 1.45l-1.45 1.45l-1.45 -1.45zM433.94 205.43l1.45 1.45l-1.45 1.45l-1.45 -1.45zM435.00 209.32l1.45 1.45l-1.45 1.45l-1.45 -1.45zM436.06 210.10l1.45 1.45l-1.45 1.45l-1.45 -1.45zM437.12 206.99l1.45 1.45l-1.45 1.45l-1.45 -1.45zM438.18 208.54l1.45 1.45l-1.45 1.45l-1.45 -1.45zM439.24 205.43l1.45 1.45l-1.45 1.45l-1.45 -1.45zM440.30 210.87l1.45 1.45l-1.45 1.45l-1.45 -1.45zM441.36 206.99l1.45 1.45l-1.45 1.45l-1.45 -1.45zM442.42 207.77l1.45 1.45l-1.45 1.45l-1.45 -1.45zM443.48 200.46l1.45 1.45l-1.45 1.45l-1.45 -1.45zM444.55 206.99l1.45 1.45l-1.45 1.45l-1.45 -1.45zM445.61 202.33l1.45 1.45l-1.45 1.45l-1.45 -1.45zM446.67 208.54l1.45 1.45l-1.45 1.45l-1.45 -1.45zM447.73 200.77l1.45 1.45l-1.45 1.45l-1.45 -1.45zM448.79 186.79l1.45 1.45l-1.45 1.45l-1.45 -1.45zM449.85 181.66l1.45 1.45l-1.45 1.45l-1.45 -1.45zM450.91 203.88l1.45 1.45l-1.45 1.45l-1.45 -1.45zM451.97 194.87l1.45 1.45l-1.45 1.45l-1.45 -1.45zM453.03 210.87l1.45 1.45l-1.45 1.45l-1.45 -1.45zM454.09 205.43l1.45 1.45l-1.45 1.45l-1.45 -1.45zM455.15 181.81l1.45 1.45l-1.45 1.45l-1.45 -1.45zM456.21 199.22l1.45 1.45l-1.45 1.45l-1.45 -1.45zM457.27 203.88l1.45 1.45l-1.45 1.45l-1.45 -1.45zM458.33 196.42l1.45 1.45l-1.45 1.45l-1.45 -1.45zM459.40 206.99l1.45 1.45l-1.45 1.45l-1.45 -1.45zM460.46 211.65l1.45 1.45l-1.45 1.45l-1.45 -1.45zM461.52 193.78l1.45 1.45l-1.45 1.45l-1.45 -1.45zM462.58 203.88l1.45 1.45l-1.45 1.45l-1.45 -1.45zM463.64 186.79l1.45 1.45l-1.45 1.45l-1.45 -1.45zM464.70 197.66l1.45 1.45l-1.45 1.45l-1.45 -1.45zM465.76 205.74l1.45 1.45l-1.45 1.45l-1.45 -1.45zM466.82 202.33l1.45 1.45l-1.45 1.45l-1.45 -1.45zM467.88 199.22l1.45 1.45l-1.45 1.45l-1.45 -1.45zM468.94 206.99l1.45 1.45l-1.45 1.45l-1.45 -1.45zM470.00 204.66l1.45 1.45l-1.45 1.45l-1.45 -1.45zM471.06 191.45l1.45 1.45l-1.45 1.45l-1.45 -1.45zM472.12 202.33l1.45 1.45l-1.45 1.45l-1.45 -1.45zM473.18 205.43l1.45 1.45l-1.45 1.45l-1.45 -1.45zM474.24 206.99l1.45 1.45l-1.45 1.45l-1.45 -1.45zM475.31 180.57l1.45 1.45l-1.45 1.45l-1.45 -1.45zM476.37 206.21l1.45 1.45l-1.45 1.45l-1.45 -1.45zM477.43 210.10l1.45 1.45l-1.45 1.45l-1.45 -1.45zM478.49 210.87l1.45 1.45l-1.45 1.45l-1.45 -1.45zM479.55 197.66l1.45 1.45l-1.45 1.45l-1.45 -1.45zM480.61 210.87l1.45 1.45l-1.45 1.45l-1.45 -1.45zM481.67 200.77l1.45 1.45l-1.45 1.45l-1.45 -1.45zM482.73 205.43l1.45 1.45l-1.45 1.45l-1.45 -1.45zM483.79 191.45l1.45 1.45l-1.45 1.45l-1.45 -1.45zM484.85 208.54l1.45 1.45l-1.45 1.45l-1.45 -1.45zM485.91 201.55l1.45 1.45l-1.45 1.45l-1.45 -1.45zM486.97 205.43l1.45 1.45l-1.45 1.45l-1.45 -1.45zM488.03 194.87l1.45 1.45l-1.45 1.45l-1.45 -1.45zM489.09 198.44l1.45 1.45l-1.45 1.45l-1.45 -1.45zM490.15 203.88l1.45 1.45l-1.45 1.45l-1.45 -1.45zM491.22 201.55l1.45 1.45l-1.45 1.45l-1.45 -1.45zM492.28 199.22l1.45 1.45l-1.45 1.45l-1.45 -1.45zM493.34 202.33l1.45 1.45l-1.45 1.45l-1.45 -1.45zM494.40 200.77l1.45 1.45l-1.45 1.45l-1.45 -1.45zM495.46 199.22l1.45 1.45l-1.45 1.45l-1.45 -1.45zM496.52 206.99l1.45 1.45l-1.45 1.45l-1.45 -1.45zM497.58 210.10l1.45 1.45l-1.45 1.45l-1.45 -1.45zM498.64 202.33l1.45 1.45l-1.45 1.45l-1.45 -1.45zM499.70 193.78l1.45 1.45l-1.45 1.45l-1.45 -1.45zM500.76 182.12l1.45 1.45l-1.45 1.45l-1.45 -1.45zM501.82 211.65l1.45 1.45l-1.45 1.45l-1.45 -1.45zM502.88 205.43l1.45 1.45l-1.45 1.45l-1.45 -1.45zM503.94 206.99l1.45 1.45l-1.45 1.45l-1.45 -1.45zM505.00 203.88l1.45 1.45l-1.45 1.45l-1.45 -1.45zM506.07 208.54l1.45 1.45l-1.45 1.45l-1.45 -1.45zM507.13 209.32l1.45 1.45l-1.45 1.45l-1.45 -1.45zM508.19 205.43l1.45 1.45l-1.45 1.45l-1.45 -1.45zM509.25 198.44l1.45 1.45l-1.45 1.45l-1.45 -1.45zM510.31 205.43l1.45 1.45l-1.45 1.45l-1.45 -1.45zM511.37 204.19l1.45 1.45l-1.45 1.45l-1.45 -1.45zM512.43 206.21l1.45 1.45l-1.45 1.45l-1.45 -1.45zM513.49 197.66l1.45 1.45l-1.45 1.45l-1.45 -1.45zM514.55 208.54l1.45 1.45l-1.45 1.45l-1.45 -1.45zM515.61 187.72l1.45 1.45l-1.45 1.45l-1.45 -1.45zM516.67 210.87l1.45 1.45l-1.45 1.45l-1.45 -1.45zM517.73 206.99l1.45 1.45l-1.45 1.45l-1.45 -1.45zM518.79 201.08l1.45 1.45l-1.45 1.45l-1.45 -1.45zM519.85 205.43l1.45 1.45l-1.45 1.45l-1.45 -1.45zM520.91 192.23l1.45 1.45l-1.45 1.45l-1.45 -1.45zM521.98 200.77l1.45 1.45l-1.45 1.45l-1.45 -1.45zM523.04 198.13l1.45 1.45l-1.45 1.45l-1.45 -1.45zM524.10 203.88l1.45 1.45l-1.45 1.45l-1.45 -1.45zM525.16 194.56l1.45 1.45l-1.45 1.45l-1.45 -1.45zM526.22 183.21l1.45 1.45l-1.45 1.45l-1.45 -1.45zM527.28 198.13l1.45 1.45l-1.45 1.45l-1.45 -1.45zM528.34 205.43l1.45 1.45l-1.45 1.45l-1.45 -1.45zM529.40 210.87l1.45 1.45l-1.45 1.45l-1.45 -1.45zM530.46 203.10l1.45 1.45l-1.45 1.45l-1.45 -1.45zM531.52 206.99l1.45 1.45l-1.45 1.45l-1.45 -1.45zM532.58 203.88l1.45 1.45l-1.45 1.45l-1.45 -1.45zM533.64 187.72l1.45 1.45l-1.45 1.45l-1.45 -1.45zM534.70 204.19l1.45 1.45l-1.45 1.45l-1.45 -1.45zM535.76 206.99l1.45 1.45l-1.45 1.45l-1.45 -1.45zM536.83 208.54l1.45 1.45l-1.45 1.45l-1.45 -1.45zM537.89 203.88l1.45 1.45l-1.45 1.45l-1.45 -1.45zM538.95 205.43l1.45 1.45l-1.45 1.45l-1.45 -1.45zM540.01 206.99l1.45 1.45l-1.45 1.45l-1.45 -1.45zM541.07 197.66l1.45 1.45l-1.45 1.45l-1.45 -1.45zM542.13 208.54l1.45 1.45l-1.45 1.45l-1.45 -1.45zM543.19 210.87l1.45 1.45l-1.45 1.45l-1.45 -1.45zM544.25 150.27l1.45 1.45l-1.45 1.45l-1.45 -1.45z" fill="#1F6FC0"/>
<polyline points="405.30,198.09 406.36,205.62 407.42,204.40 408.48,195.31 409.54,205.33 410.60,207.91 411.66,173.47 412.72,166.01 413.79,205.33 414.85,208.13 415.91,208.14 416.97,187.41 418.03,205.62 419.09,206.11 420.15,209.86 421.21,196.90 422.27,207.19 423.33,211.04 424.39,208.20 425.45,190.73 426.51,183.26 427.57,212.38 428.64,196.93 429.70,189.32 430.76,198.50 431.82,195.38 432.88,205.39 433.94,205.36 435.00,212.85 436.06,210.88 437.12,208.46 438.18,209.02 439.24,206.03 440.30,212.00 441.36,208.79 442.42,209.53 443.48,203.14 444.55,208.15 445.61,204.65 446.67,208.31 447.73,204.46 448.79,190.46 449.85,185.50 450.91,207.63 451.97,194.53 453.03,212.03 454.09,207.26 455.15,187.93 456.21,203.14 457.27,203.94 458.33,199.06 459.40,208.28 460.46,212.24 461.52,197.06 462.58,205.28 463.64,188.77 464.70,197.22 465.76,209.74 466.82,201.96 467.88,199.72 468.94,208.66 470.00,205.56 471.06,194.09 472.12,201.81 473.18,206.40 474.24,208.35 475.31,182.80 476.37,207.60 477.43,211.63 478.49,213.04 479.55,203.57 480.61,211.95 481.67,201.84 482.73,206.88 483.79,193.72 484.85,209.17 485.91,201.88 486.97,207.17 488.03,197.18 489.09,197.83 490.15,204.57 491.22,204.15 492.28,198.12 493.34,202.83 494.40,202.97 495.46,202.19 496.52,207.75 497.58,211.74 498.64,205.24 499.70,196.32 500.76,183.57 501.82,213.10 502.88,205.86 503.94,208.02 505.00,204.21 506.07,208.15 507.13,210.48 508.19,206.81 509.25,200.15 510.31,207.97 511.37,204.70 512.43,205.77 513.49,199.17 514.55,209.83 515.61,190.36 516.67,212.36 517.73,208.57 518.79,203.55 519.85,207.15 520.91,196.12 521.98,201.87 523.04,199.75 524.10,206.53 525.16,199.14 526.22,185.85 527.28,198.52 528.34,207.50 529.40,212.21 530.46,203.70 531.52,209.17 532.58,204.04 533.64,190.41 534.70,204.40 535.76,208.06 536.83,209.82 537.89,206.91 538.95,207.44 540.01,208.40 541.07,198.60 542.13,209.27 543.19,211.60 544.25,156.07" fill="none" stroke="#F28B45" stroke-width="0.9"/>
<path d="M403.75 198.09a1.55 1.55 0 1 0 3.1 0a1.55 1.55 0 1 0 -3.1 0M404.81 205.62a1.55 1.55 0 1 0 3.1 0a1.55 1.55 0 1 0 -3.1 0M405.87 204.40a1.55 1.55 0 1 0 3.1 0a1.55 1.55 0 1 0 -3.1 0M406.93 195.31a1.55 1.55 0 1 0 3.1 0a1.55 1.55 0 1 0 -3.1 0M407.99 205.33a1.55 1.55 0 1 0 3.1 0a1.55 1.55 0 1 0 -3.1 0M409.05 207.91a1.55 1.55 0 1 0 3.1 0a1.55 1.55 0 1 0 -3.1 0M410.11 173.47a1.55 1.55 0 1 0 3.1 0a1.55 1.55 0 1 0 -3.1 0M411.17 166.01a1.55 1.55 0 1 0 3.1 0a1.55 1.55 0 1 0 -3.1 0M412.24 205.33a1.55 1.55 0 1 0 3.1 0a1.55 1.55 0 1 0 -3.1 0M413.30 208.13a1.55 1.55 0 1 0 3.1 0a1.55 1.55 0 1 0 -3.1 0M414.36 208.14a1.55 1.55 0 1 0 3.1 0a1.55 1.55 0 1 0 -3.1 0M415.42 187.41a1.55 1.55 0 1 0 3.1 0a1.55 1.55 0 1 0 -3.1 0M416.48 205.62a1.55 1.55 0 1 0 3.1 0a1.55 1.55 0 1 0 -3.1 0M417.54 206.11a1.55 1.55 0 1 0 3.1 0a1.55 1.55 0 1 0 -3.1 0M418.60 209.86a1.55 1.55 0 1 0 3.1 0a1.55 1.55 0 1 0 -3.1 0M419.66 196.90a1.55 1.55 0 1 0 3.1 0a1.55 1.55 0 1 0 -3.1 0M420.72 207.19a1.55 1.55 0 1 0 3.1 0a1.55 1.55 0 1 0 -3.1 0M421.78 211.04a1.55 1.55 0 1 0 3.1 0a1.55 1.55 0 1 0 -3.1 0M422.84 208.20a1.55 1.55 0 1 0 3.1 0a1.55 1.55 0 1 0 -3.1 0M423.90 190.73a1.55 1.55 0 1 0 3.1 0a1.55 1.55 0 1 0 -3.1 0M424.96 183.26a1.55 1.55 0 1 0 3.1 0a1.55 1.55 0 1 0 -3.1 0M426.02 212.38a1.55 1.55 0 1 0 3.1 0a1.55 1.55 0 1 0 -3.1 0M427.09 196.93a1.55 1.55 0 1 0 3.1 0a1.55 1.55 0 1 0 -3.1 0M428.15 189.32a1.55 1.55 0 1 0 3.1 0a1.55 1.55 0 1 0 -3.1 0M429.21 198.50a1.55 1.55 0 1 0 3.1 0a1.55 1.55 0 1 0 -3.1 0M430.27 195.38a1.55 1.55 0 1 0 3.1 0a1.55 1.55 0 1 0 -3.1 0M431.33 205.39a1.55 1.55 0 1 0 3.1 0a1.55 1.55 0 1 0 -3.1 0M432.39 205.36a1.55 1.55 0 1 0 3.1 0a1.55 1.55 0 1 0 -3.1 0M433.45 212.85a1.55 1.55 0 1 0 3.1 0a1.55 1.55 0 1 0 -3.1 0M434.51 210.88a1.55 1.55 0 1 0 3.1 0a1.55 1.55 0 1 0 -3.1 0M435.57 208.46a1.55 1.55 0 1 0 3.1 0a1.55 1.55 0 1 0 -3.1 0M436.63 209.02a1.55 1.55 0 1 0 3.1 0a1.55 1.55 0 1 0 -3.1 0M437.69 206.03a1.55 1.55 0 1 0 3.1 0a1.55 1.55 0 1 0 -3.1 0M438.75 212.00a1.55 1.55 0 1 0 3.1 0a1.55 1.55 0 1 0 -3.1 0M439.81 208.79a1.55 1.55 0 1 0 3.1 0a1.55 1.55 0 1 0 -3.1 0M440.87 209.53a1.55 1.55 0 1 0 3.1 0a1.55 1.55 0 1 0 -3.1 0M441.93 203.14a1.55 1.55 0 1 0 3.1 0a1.55 1.55 0 1 0 -3.1 0M443.00 208.15a1.55 1.55 0 1 0 3.1 0a1.55 1.55 0 1 0 -3.1 0M444.06 204.65a1.55 1.55 0 1 0 3.1 0a1.55 1.55 0 1 0 -3.1 0M445.12 208.31a1.55 1.55 0 1 0 3.1 0a1.55 1.55 0 1 0 -3.1 0M446.18 204.46a1.55 1.55 0 1 0 3.1 0a1.55 1.55 0 1 0 -3.1 0M447.24 190.46a1.55 1.55 0 1 0 3.1 0a1.55 1.55 0 1 0 -3.1 0M448.30 185.50a1.55 1.55 0 1 0 3.1 0a1.55 1.55 0 1 0 -3.1 0M449.36 207.63a1.55 1.55 0 1 0 3.1 0a1.55 1.55 0 1 0 -3.1 0M450.42 194.53a1.55 1.55 0 1 0 3.1 0a1.55 1.55 0 1 0 -3.1 0M451.48 212.03a1.55 1.55 0 1 0 3.1 0a1.55 1.55 0 1 0 -3.1 0M452.54 207.26a1.55 1.55 0 1 0 3.1 0a1.55 1.55 0 1 0 -3.1 0M453.60 187.93a1.55 1.55 0 1 0 3.1 0a1.55 1.55 0 1 0 -3.1 0M454.66 203.14a1.55 1.55 0 1 0 3.1 0a1.55 1.55 0 1 0 -3.1 0M455.72 203.94a1.55 1.55 0 1 0 3.1 0a1.55 1.55 0 1 0 -3.1 0M456.78 199.06a1.55 1.55 0 1 0 3.1 0a1.55 1.55 0 1 0 -3.1 0M457.85 208.28a1.55 1.55 0 1 0 3.1 0a1.55 1.55 0 1 0 -3.1 0M458.91 212.24a1.55 1.55 0 1 0 3.1 0a1.55 1.55 0 1 0 -3.1 0M459.97 197.06a1.55 1.55 0 1 0 3.1 0a1.55 1.55 0 1 0 -3.1 0M461.03 205.28a1.55 1.55 0 1 0 3.1 0a1.55 1.55 0 1 0 -3.1 0M462.09 188.77a1.55 1.55 0 1 0 3.1 0a1.55 1.55 0 1 0 -3.1 0M463.15 197.22a1.55 1.55 0 1 0 3.1 0a1.55 1.55 0 1 0 -3.1 0M464.21 209.74a1.55 1.55 0 1 0 3.1 0a1.55 1.55 0 1 0 -3.1 0M465.27 201.96a1.55 1.55 0 1 0 3.1 0a1.55 1.55 0 1 0 -3.1 0M466.33 199.72a1.55 1.55 0 1 0 3.1 0a1.55 1.55 0 1 0 -3.1 0M467.39 208.66a1.55 1.55 0 1 0 3.1 0a1.55 1.55 0 1 0 -3.1 0M468.45 205.56a1.55 1.55 0 1 0 3.1 0a1.55 1.55 0 1 0 -3.1 0M469.51 194.09a1.55 1.55 0 1 0 3.1 0a1.55 1.55 0 1 0 -3.1 0M470.57 201.81a1.55 1.55 0 1 0 3.1 0a1.55 1.55 0 1 0 -3.1 0M471.63 206.40a1.55 1.55 0 1 0 3.1 0a1.55 1.55 0 1 0 -3.1 0M472.69 208.35a1.55 1.55 0 1 0 3.1 0a1.55 1.55 0 1 0 -3.1 0M473.76 182.80a1.55 1.55 0 1 0 3.1 0a1.55 1.55 0 1 0 -3.1 0M474.82 207.60a1.55 1.55 0 1 0 3.1 0a1.55 1.55 0 1 0 -3.1 0M475.88 211.63a1.55 1.55 0 1 0 3.1 0a1.55 1.55 0 1 0 -3.1 0M476.94 213.04a1.55 1.55 0 1 0 3.1 0a1.55 1.55 0 1 0 -3.1 0M478.00 203.57a1.55 1.55 0 1 0 3.1 0a1.55 1.55 0 1 0 -3.1 0M479.06 211.95a1.55 1.55 0 1 0 3.1 0a1.55 1.55 0 1 0 -3.1 0M480.12 201.84a1.55 1.55 0 1 0 3.1 0a1.55 1.55 0 1 0 -3.1 0M481.18 206.88a1.55 1.55 0 1 0 3.1 0a1.55 1.55 0 1 0 -3.1 0M482.24 193.72a1.55 1.55 0 1 0 3.1 0a1.55 1.55 0 1 0 -3.1 0M483.30 209.17a1.55 1.55 0 1 0 3.1 0a1.55 1.55 0 1 0 -3.1 0M484.36 201.88a1.55 1.55 0 1 0 3.1 0a1.55 1.55 0 1 0 -3.1 0M485.42 207.17a1.55 1.55 0 1 0 3.1 0a1.55 1.55 0 1 0 -3.1 0M486.48 197.18a1.55 1.55 0 1 0 3.1 0a1.55 1.55 0 1 0 -3.1 0M487.54 197.83a1.55 1.55 0 1 0 3.1 0a1.55 1.55 0 1 0 -3.1 0M488.60 204.57a1.55 1.55 0 1 0 3.1 0a1.55 1.55 0 1 0 -3.1 0M489.67 204.15a1.55 1.55 0 1 0 3.1 0a1.55 1.55 0 1 0 -3.1 0M490.73 198.12a1.55 1.55 0 1 0 3.1 0a1.55 1.55 0 1 0 -3.1 0M491.79 202.83a1.55 1.55 0 1 0 3.1 0a1.55 1.55 0 1 0 -3.1 0M492.85 202.97a1.55 1.55 0 1 0 3.1 0a1.55 1.55 0 1 0 -3.1 0M493.91 202.19a1.55 1.55 0 1 0 3.1 0a1.55 1.55 0 1 0 -3.1 0M494.97 207.75a1.55 1.55 0 1 0 3.1 0a1.55 1.55 0 1 0 -3.1 0M496.03 211.74a1.55 1.55 0 1 0 3.1 0a1.55 1.55 0 1 0 -3.1 0M497.09 205.24a1.55 1.55 0 1 0 3.1 0a1.55 1.55 0 1 0 -3.1 0M498.15 196.32a1.55 1.55 0 1 0 3.1 0a1.55 1.55 0 1 0 -3.1 0M499.21 183.57a1.55 1.55 0 1 0 3.1 0a1.55 1.55 0 1 0 -3.1 0M500.27 213.10a1.55 1.55 0 1 0 3.1 0a1.55 1.55 0 1 0 -3.1 0M501.33 205.86a1.55 1.55 0 1 0 3.1 0a1.55 1.55 0 1 0 -3.1 0M502.39 208.02a1.55 1.55 0 1 0 3.1 0a1.55 1.55 0 1 0 -3.1 0M503.45 204.21a1.55 1.55 0 1 0 3.1 0a1.55 1.55 0 1 0 -3.1 0M504.52 208.15a1.55 1.55 0 1 0 3.1 0a1.55 1.55 0 1 0 -3.1 0M505.58 210.48a1.55 1.55 0 1 0 3.1 0a1.55 1.55 0 1 0 -3.1 0M506.64 206.81a1.55 1.55 0 1 0 3.1 0a1.55 1.55 0 1 0 -3.1 0M507.70 200.15a1.55 1.55 0 1 0 3.1 0a1.55 1.55 0 1 0 -3.1 0M508.76 207.97a1.55 1.55 0 1 0 3.1 0a1.55 1.55 0 1 0 -3.1 0M509.82 204.70a1.55 1.55 0 1 0 3.1 0a1.55 1.55 0 1 0 -3.1 0M510.88 205.77a1.55 1.55 0 1 0 3.1 0a1.55 1.55 0 1 0 -3.1 0M511.94 199.17a1.55 1.55 0 1 0 3.1 0a1.55 1.55 0 1 0 -3.1 0M513.00 209.83a1.55 1.55 0 1 0 3.1 0a1.55 1.55 0 1 0 -3.1 0M514.06 190.36a1.55 1.55 0 1 0 3.1 0a1.55 1.55 0 1 0 -3.1 0M515.12 212.36a1.55 1.55 0 1 0 3.1 0a1.55 1.55 0 1 0 -3.1 0M516.18 208.57a1.55 1.55 0 1 0 3.1 0a1.55 1.55 0 1 0 -3.1 0M517.24 203.55a1.55 1.55 0 1 0 3.1 0a1.55 1.55 0 1 0 -3.1 0M518.30 207.15a1.55 1.55 0 1 0 3.1 0a1.55 1.55 0 1 0 -3.1 0M519.36 196.12a1.55 1.55 0 1 0 3.1 0a1.55 1.55 0 1 0 -3.1 0M520.43 201.87a1.55 1.55 0 1 0 3.1 0a1.55 1.55 0 1 0 -3.1 0M521.49 199.75a1.55 1.55 0 1 0 3.1 0a1.55 1.55 0 1 0 -3.1 0M522.55 206.53a1.55 1.55 0 1 0 3.1 0a1.55 1.55 0 1 0 -3.1 0M523.61 199.14a1.55 1.55 0 1 0 3.1 0a1.55 1.55 0 1 0 -3.1 0M524.67 185.85a1.55 1.55 0 1 0 3.1 0a1.55 1.55 0 1 0 -3.1 0M525.73 198.52a1.55 1.55 0 1 0 3.1 0a1.55 1.55 0 1 0 -3.1 0M526.79 207.50a1.55 1.55 0 1 0 3.1 0a1.55 1.55 0 1 0 -3.1 0M527.85 212.21a1.55 1.55 0 1 0 3.1 0a1.55 1.55 0 1 0 -3.1 0M528.91 203.70a1.55 1.55 0 1 0 3.1 0a1.55 1.55 0 1 0 -3.1 0M529.97 209.17a1.55 1.55 0 1 0 3.1 0a1.55 1.55 0 1 0 -3.1 0M531.03 204.04a1.55 1.55 0 1 0 3.1 0a1.55 1.55 0 1 0 -3.1 0M532.09 190.41a1.55 1.55 0 1 0 3.1 0a1.55 1.55 0 1 0 -3.1 0M533.15 204.40a1.55 1.55 0 1 0 3.1 0a1.55 1.55 0 1 0 -3.1 0M534.21 208.06a1.55 1.55 0 1 0 3.1 0a1.55 1.55 0 1 0 -3.1 0M535.28 209.82a1.55 1.55 0 1 0 3.1 0a1.55 1.55 0 1 0 -3.1 0M536.34 206.91a1.55 1.55 0 1 0 3.1 0a1.55 1.55 0 1 0 -3.1 0M537.40 207.44a1.55 1.55 0 1 0 3.1 0a1.55 1.55 0 1 0 -3.1 0M538.46 208.40a1.55 1.55 0 1 0 3.1 0a1.55 1.55 0 1 0 -3.1 0M539.52 198.60a1.55 1.55 0 1 0 3.1 0a1.55 1.55 0 1 0 -3.1 0M540.58 209.27a1.55 1.55 0 1 0 3.1 0a1.55 1.55 0 1 0 -3.1 0M541.64 211.60a1.55 1.55 0 1 0 3.1 0a1.55 1.55 0 1 0 -3.1 0M542.70 156.07a1.55 1.55 0 1 0 3.1 0a1.55 1.55 0 1 0 -3.1 0" fill="#F26D1F"/>
<line x1="446.9" y1="151.2" x2="460.8" y2="151.2" stroke="#5A8FCC" stroke-width="0.9"/>
<circle cx="453.85" cy="151.2" r="1.35" fill="#1F6FC0"/>
<line x1="446.9" y1="161.1" x2="460.8" y2="161.1" stroke="#F28B45" stroke-width="0.9"/>
<circle cx="453.85" cy="161.1" r="1.75" fill="#F26D1F"/>
<text x="462.90" y="152.90" font-size="7.3" text-anchor="start" textLength="19.60" lengthAdjust="spacingAndGlyphs">Actual</text>
<text x="462.40" y="163.40" font-size="7.3" text-anchor="start" textLength="30.80" lengthAdjust="spacingAndGlyphs">GPR-PUK</text>
<text x="463.70" y="237.00" font-size="7.2" text-anchor="start" font-weight="bold" class="b" textLength="23.30" lengthAdjust="spacingAndGlyphs">Dataset</text>
<text transform="translate(382.18,178.90) rotate(-90)" font-size="7.5" font-weight="bold" class="b" text-anchor="middle" textLength="83.20" lengthAdjust="spacingAndGlyphs">RFM shear strength (MPa)</text>
</svg>
</body></html>
